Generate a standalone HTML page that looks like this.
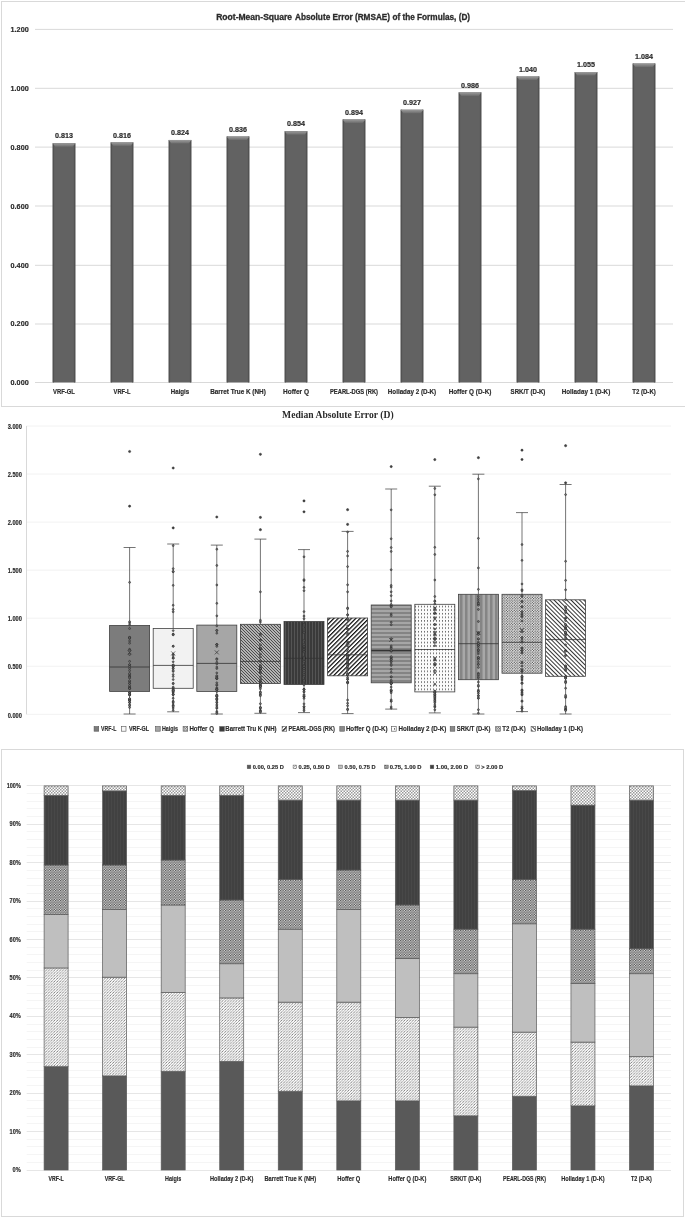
<!DOCTYPE html>
<html><head><meta charset="utf-8"><title>Formula error charts</title>
<style>
html,body{margin:0;padding:0;background:#ffffff;}
body{width:685px;height:1218px;overflow:hidden;}
svg{display:block;}
</style></head>
<body>
<svg width="685" height="1218" viewBox="0 0 685 1218">

<defs>
 <linearGradient id="bevTop" x1="0" y1="0" x2="0" y2="1">
  <stop offset="0" stop-color="#9c9c9c"/><stop offset="1" stop-color="#6c6c6c"/>
 </linearGradient>
 <linearGradient id="barBody" x1="0" y1="0" x2="1" y2="0">
  <stop offset="0" stop-color="#505050"/><stop offset="0.08" stop-color="#5e5e5e"/>
  <stop offset="0.92" stop-color="#5e5e5e"/><stop offset="1" stop-color="#505050"/>
 </linearGradient>
 <pattern id="pHofferQ" width="3" height="3" patternUnits="userSpaceOnUse">
  <rect width="3" height="3" fill="#b4b4b4"/>
  <path d="M-1,-1 L4,4 M-1,2 L1,4 M2,-1 L4,1" stroke="#484848" stroke-width="0.95"/>
 </pattern>
 <pattern id="pBarrett" width="3" height="3" patternUnits="userSpaceOnUse">
  <rect width="3" height="3" fill="#3a3a3a"/>
  <rect x="0" width="1" height="3" fill="#555"/>
 </pattern>
 <pattern id="pPearl" width="3.1" height="3.1" patternUnits="userSpaceOnUse" patternTransform="rotate(45)">
  <rect width="3.1" height="3.1" fill="#ffffff"/>
  <rect x="0" width="1.25" height="3.1" fill="#111"/>
 </pattern>
 <pattern id="pHofferQDK" width="4" height="4" patternUnits="userSpaceOnUse">
  <rect width="4" height="4" fill="#a6a6a6"/>
  <rect y="0" width="4" height="2" fill="#848484"/>
 </pattern>
 <pattern id="pHol2" width="3" height="3.6" patternUnits="userSpaceOnUse">
  <rect width="3" height="3.6" fill="#fbfbfb"/>
  <rect x="1" y="1" width="0.9" height="1.4" fill="#444"/>
 </pattern>
 <pattern id="pSRKT" width="5" height="5" patternUnits="userSpaceOnUse">
  <rect width="5" height="5" fill="#a8a8a8"/>
  <rect x="0" width="2.5" height="5" fill="#858585"/>
 </pattern>
 <pattern id="pT2" width="2.6" height="2.6" patternUnits="userSpaceOnUse">
  <rect width="2.6" height="2.6" fill="#f0f0f0"/>
  <circle cx="0.65" cy="0.65" r="0.58" fill="#222"/>
  <circle cx="1.95" cy="1.95" r="0.58" fill="#222"/>
 </pattern>
 <pattern id="pHol1" width="3" height="3" patternUnits="userSpaceOnUse" patternTransform="rotate(-45)">
  <rect width="3" height="3" fill="#ffffff"/>
  <rect x="0" width="1.0" height="3" fill="#333"/>
 </pattern>
 <pattern id="sZig" width="2.8" height="2.8" patternUnits="userSpaceOnUse">
  <rect width="2.8" height="2.8" fill="#ffffff"/>
  <path d="M0.2,2.5 L2.3,0.4" stroke="#4a4a4a" stroke-width="0.85"/>
 </pattern>
 <pattern id="sCheckD" width="2.5" height="2.5" patternUnits="userSpaceOnUse">
  <rect width="2.5" height="2.5" fill="#dcdcdc"/>
  <circle cx="0.62" cy="0.62" r="0.72" fill="#4a4a4a"/>
  <circle cx="1.87" cy="1.87" r="0.72" fill="#4a4a4a"/>
 </pattern>
 <pattern id="sDark" width="3" height="3" patternUnits="userSpaceOnUse">
  <rect width="3" height="3" fill="#414141"/>
  <rect x="0" width="1" height="3" fill="#484848"/>
 </pattern>
 <pattern id="sCheckL" width="3" height="3" patternUnits="userSpaceOnUse">
  <rect width="3" height="3" fill="#ffffff"/>
  <rect width="1.5" height="1.5" fill="#9a9a9a"/>
  <rect x="1.5" y="1.5" width="1.5" height="1.5" fill="#9a9a9a"/>
 </pattern>
</defs>

<rect width="685" height="1218" fill="#ffffff"/>
<rect x="1.5" y="1.5" width="684" height="405" fill="none" stroke="#d9d9d9" stroke-width="1"/>
<text x="216.20" y="20.20" font-family="'Liberation Sans', Arial, sans-serif" font-size="8.8" font-weight="bold" fill="#2b2b2b" text-anchor="start" textLength="75.9" lengthAdjust="spacingAndGlyphs" stroke="#2b2b2b" stroke-width="0.3">Root-Mean-Square</text>
<text x="295.00" y="20.20" font-family="'Liberation Sans', Arial, sans-serif" font-size="8.8" font-weight="bold" fill="#2b2b2b" text-anchor="start" textLength="175.1" lengthAdjust="spacingAndGlyphs" stroke="#2b2b2b" stroke-width="0.3">Absolute Error (RMSAE) of the Formulas, (D)</text>
<line x1="35" y1="382.50" x2="673" y2="382.50" stroke="#d9d9d9" stroke-width="1"/>
<text x="28.70" y="385.20" font-family="'Liberation Sans', Arial, sans-serif" font-size="7.1" font-weight="bold" fill="#2b2b2b" text-anchor="end" textLength="18.1" lengthAdjust="spacingAndGlyphs" stroke="#2b2b2b" stroke-width="0.18">0.000</text>
<line x1="35" y1="324.00" x2="673" y2="324.00" stroke="#d9d9d9" stroke-width="1"/>
<text x="28.70" y="326.36" font-family="'Liberation Sans', Arial, sans-serif" font-size="7.1" font-weight="bold" fill="#2b2b2b" text-anchor="end" textLength="18.1" lengthAdjust="spacingAndGlyphs" stroke="#2b2b2b" stroke-width="0.18">0.200</text>
<line x1="35" y1="265.30" x2="673" y2="265.30" stroke="#d9d9d9" stroke-width="1"/>
<text x="28.70" y="267.52" font-family="'Liberation Sans', Arial, sans-serif" font-size="7.1" font-weight="bold" fill="#2b2b2b" text-anchor="end" textLength="18.1" lengthAdjust="spacingAndGlyphs" stroke="#2b2b2b" stroke-width="0.18">0.400</text>
<line x1="35" y1="206.00" x2="673" y2="206.00" stroke="#d9d9d9" stroke-width="1"/>
<text x="28.70" y="208.67" font-family="'Liberation Sans', Arial, sans-serif" font-size="7.1" font-weight="bold" fill="#2b2b2b" text-anchor="end" textLength="18.1" lengthAdjust="spacingAndGlyphs" stroke="#2b2b2b" stroke-width="0.18">0.600</text>
<line x1="35" y1="147.10" x2="673" y2="147.10" stroke="#d9d9d9" stroke-width="1"/>
<text x="28.70" y="149.83" font-family="'Liberation Sans', Arial, sans-serif" font-size="7.1" font-weight="bold" fill="#2b2b2b" text-anchor="end" textLength="18.1" lengthAdjust="spacingAndGlyphs" stroke="#2b2b2b" stroke-width="0.18">0.800</text>
<line x1="35" y1="88.30" x2="673" y2="88.30" stroke="#d9d9d9" stroke-width="1"/>
<text x="28.70" y="90.99" font-family="'Liberation Sans', Arial, sans-serif" font-size="7.1" font-weight="bold" fill="#2b2b2b" text-anchor="end" textLength="18.1" lengthAdjust="spacingAndGlyphs" stroke="#2b2b2b" stroke-width="0.18">1.000</text>
<line x1="35" y1="29.40" x2="673" y2="29.40" stroke="#d9d9d9" stroke-width="1"/>
<text x="28.70" y="32.15" font-family="'Liberation Sans', Arial, sans-serif" font-size="7.1" font-weight="bold" fill="#2b2b2b" text-anchor="end" textLength="18.1" lengthAdjust="spacingAndGlyphs" stroke="#2b2b2b" stroke-width="0.18">1.200</text>
<rect x="52.70" y="143.21" width="22.6" height="239.19" fill="#626262"/>
<rect x="52.70" y="143.21" width="1.4" height="239.19" fill="#525252"/>
<rect x="73.90" y="143.21" width="1.4" height="239.19" fill="#525252"/>
<polygon points="52.70,143.21 75.30,143.21 72.70,146.81 55.30,146.81" fill="url(#bevTop)"/>
<text x="64.00" y="138.41" font-family="'Liberation Sans', Arial, sans-serif" font-size="7.1" font-weight="bold" fill="#2b2b2b" text-anchor="middle" textLength="18.0" lengthAdjust="spacingAndGlyphs" stroke="#2b2b2b" stroke-width="0.18">0.813</text>
<text x="64.00" y="394.00" font-family="'Liberation Sans', Arial, sans-serif" font-size="7.1" font-weight="bold" fill="#2b2b2b" text-anchor="middle" textLength="21.8" lengthAdjust="spacingAndGlyphs" stroke="#2b2b2b" stroke-width="0.18">VRF-GL</text>
<rect x="110.70" y="142.33" width="22.6" height="240.07" fill="#626262"/>
<rect x="110.70" y="142.33" width="1.4" height="240.07" fill="#525252"/>
<rect x="131.90" y="142.33" width="1.4" height="240.07" fill="#525252"/>
<polygon points="110.70,142.33 133.30,142.33 130.70,145.93 113.30,145.93" fill="url(#bevTop)"/>
<text x="122.00" y="137.53" font-family="'Liberation Sans', Arial, sans-serif" font-size="7.1" font-weight="bold" fill="#2b2b2b" text-anchor="middle" textLength="18.0" lengthAdjust="spacingAndGlyphs" stroke="#2b2b2b" stroke-width="0.18">0.816</text>
<text x="122.00" y="394.00" font-family="'Liberation Sans', Arial, sans-serif" font-size="7.1" font-weight="bold" fill="#2b2b2b" text-anchor="middle" textLength="16.8" lengthAdjust="spacingAndGlyphs" stroke="#2b2b2b" stroke-width="0.18">VRF-L</text>
<rect x="168.70" y="139.97" width="22.6" height="242.43" fill="#626262"/>
<rect x="168.70" y="139.97" width="1.4" height="242.43" fill="#525252"/>
<rect x="189.90" y="139.97" width="1.4" height="242.43" fill="#525252"/>
<polygon points="168.70,139.97 191.30,139.97 188.70,143.57 171.30,143.57" fill="url(#bevTop)"/>
<text x="180.00" y="135.17" font-family="'Liberation Sans', Arial, sans-serif" font-size="7.1" font-weight="bold" fill="#2b2b2b" text-anchor="middle" textLength="18.0" lengthAdjust="spacingAndGlyphs" stroke="#2b2b2b" stroke-width="0.18">0.824</text>
<text x="180.00" y="394.00" font-family="'Liberation Sans', Arial, sans-serif" font-size="7.1" font-weight="bold" fill="#2b2b2b" text-anchor="middle" textLength="18.4" lengthAdjust="spacingAndGlyphs" stroke="#2b2b2b" stroke-width="0.18">Haigis</text>
<rect x="226.70" y="136.44" width="22.6" height="245.96" fill="#626262"/>
<rect x="226.70" y="136.44" width="1.4" height="245.96" fill="#525252"/>
<rect x="247.90" y="136.44" width="1.4" height="245.96" fill="#525252"/>
<polygon points="226.70,136.44 249.30,136.44 246.70,140.04 229.30,140.04" fill="url(#bevTop)"/>
<text x="238.00" y="131.64" font-family="'Liberation Sans', Arial, sans-serif" font-size="7.1" font-weight="bold" fill="#2b2b2b" text-anchor="middle" textLength="18.0" lengthAdjust="spacingAndGlyphs" stroke="#2b2b2b" stroke-width="0.18">0.836</text>
<text x="238.00" y="394.00" font-family="'Liberation Sans', Arial, sans-serif" font-size="7.1" font-weight="bold" fill="#2b2b2b" text-anchor="middle" textLength="55.6" lengthAdjust="spacingAndGlyphs" stroke="#2b2b2b" stroke-width="0.18">Barret True K (NH)</text>
<rect x="284.70" y="131.15" width="22.6" height="251.25" fill="#626262"/>
<rect x="284.70" y="131.15" width="1.4" height="251.25" fill="#525252"/>
<rect x="305.90" y="131.15" width="1.4" height="251.25" fill="#525252"/>
<polygon points="284.70,131.15 307.30,131.15 304.70,134.75 287.30,134.75" fill="url(#bevTop)"/>
<text x="296.00" y="126.35" font-family="'Liberation Sans', Arial, sans-serif" font-size="7.1" font-weight="bold" fill="#2b2b2b" text-anchor="middle" textLength="18.0" lengthAdjust="spacingAndGlyphs" stroke="#2b2b2b" stroke-width="0.18">0.854</text>
<text x="296.00" y="394.00" font-family="'Liberation Sans', Arial, sans-serif" font-size="7.1" font-weight="bold" fill="#2b2b2b" text-anchor="middle" textLength="26.1" lengthAdjust="spacingAndGlyphs" stroke="#2b2b2b" stroke-width="0.18">Hoffer Q</text>
<rect x="342.70" y="119.38" width="22.6" height="263.02" fill="#626262"/>
<rect x="342.70" y="119.38" width="1.4" height="263.02" fill="#525252"/>
<rect x="363.90" y="119.38" width="1.4" height="263.02" fill="#525252"/>
<polygon points="342.70,119.38 365.30,119.38 362.70,122.98 345.30,122.98" fill="url(#bevTop)"/>
<text x="354.00" y="114.58" font-family="'Liberation Sans', Arial, sans-serif" font-size="7.1" font-weight="bold" fill="#2b2b2b" text-anchor="middle" textLength="18.0" lengthAdjust="spacingAndGlyphs" stroke="#2b2b2b" stroke-width="0.18">0.894</text>
<text x="354.00" y="394.00" font-family="'Liberation Sans', Arial, sans-serif" font-size="7.1" font-weight="bold" fill="#2b2b2b" text-anchor="middle" textLength="48.1" lengthAdjust="spacingAndGlyphs" stroke="#2b2b2b" stroke-width="0.18">PEARL-DGS (RK)</text>
<rect x="400.70" y="109.67" width="22.6" height="272.73" fill="#626262"/>
<rect x="400.70" y="109.67" width="1.4" height="272.73" fill="#525252"/>
<rect x="421.90" y="109.67" width="1.4" height="272.73" fill="#525252"/>
<polygon points="400.70,109.67 423.30,109.67 420.70,113.27 403.30,113.27" fill="url(#bevTop)"/>
<text x="412.00" y="104.87" font-family="'Liberation Sans', Arial, sans-serif" font-size="7.1" font-weight="bold" fill="#2b2b2b" text-anchor="middle" textLength="18.0" lengthAdjust="spacingAndGlyphs" stroke="#2b2b2b" stroke-width="0.18">0.927</text>
<text x="412.00" y="394.00" font-family="'Liberation Sans', Arial, sans-serif" font-size="7.1" font-weight="bold" fill="#2b2b2b" text-anchor="middle" textLength="48.4" lengthAdjust="spacingAndGlyphs" stroke="#2b2b2b" stroke-width="0.18">Holladay 2 (D-K)</text>
<rect x="458.70" y="92.31" width="22.6" height="290.09" fill="#626262"/>
<rect x="458.70" y="92.31" width="1.4" height="290.09" fill="#525252"/>
<rect x="479.90" y="92.31" width="1.4" height="290.09" fill="#525252"/>
<polygon points="458.70,92.31 481.30,92.31 478.70,95.91 461.30,95.91" fill="url(#bevTop)"/>
<text x="470.00" y="87.51" font-family="'Liberation Sans', Arial, sans-serif" font-size="7.1" font-weight="bold" fill="#2b2b2b" text-anchor="middle" textLength="18.0" lengthAdjust="spacingAndGlyphs" stroke="#2b2b2b" stroke-width="0.18">0.986</text>
<text x="470.00" y="394.00" font-family="'Liberation Sans', Arial, sans-serif" font-size="7.1" font-weight="bold" fill="#2b2b2b" text-anchor="middle" textLength="42.7" lengthAdjust="spacingAndGlyphs" stroke="#2b2b2b" stroke-width="0.18">Hoffer Q (D-K)</text>
<rect x="516.70" y="76.42" width="22.6" height="305.98" fill="#626262"/>
<rect x="516.70" y="76.42" width="1.4" height="305.98" fill="#525252"/>
<rect x="537.90" y="76.42" width="1.4" height="305.98" fill="#525252"/>
<polygon points="516.70,76.42 539.30,76.42 536.70,80.02 519.30,80.02" fill="url(#bevTop)"/>
<text x="528.00" y="71.62" font-family="'Liberation Sans', Arial, sans-serif" font-size="7.1" font-weight="bold" fill="#2b2b2b" text-anchor="middle" textLength="18.0" lengthAdjust="spacingAndGlyphs" stroke="#2b2b2b" stroke-width="0.18">1.040</text>
<text x="528.00" y="394.00" font-family="'Liberation Sans', Arial, sans-serif" font-size="7.1" font-weight="bold" fill="#2b2b2b" text-anchor="middle" textLength="34.8" lengthAdjust="spacingAndGlyphs" stroke="#2b2b2b" stroke-width="0.18">SRK/T (D-K)</text>
<rect x="574.70" y="72.01" width="22.6" height="310.39" fill="#626262"/>
<rect x="574.70" y="72.01" width="1.4" height="310.39" fill="#525252"/>
<rect x="595.90" y="72.01" width="1.4" height="310.39" fill="#525252"/>
<polygon points="574.70,72.01 597.30,72.01 594.70,75.61 577.30,75.61" fill="url(#bevTop)"/>
<text x="586.00" y="67.21" font-family="'Liberation Sans', Arial, sans-serif" font-size="7.1" font-weight="bold" fill="#2b2b2b" text-anchor="middle" textLength="18.0" lengthAdjust="spacingAndGlyphs" stroke="#2b2b2b" stroke-width="0.18">1.055</text>
<text x="586.00" y="394.00" font-family="'Liberation Sans', Arial, sans-serif" font-size="7.1" font-weight="bold" fill="#2b2b2b" text-anchor="middle" textLength="48.5" lengthAdjust="spacingAndGlyphs" stroke="#2b2b2b" stroke-width="0.18">Holladay 1 (D-K)</text>
<rect x="632.70" y="63.48" width="22.6" height="318.92" fill="#626262"/>
<rect x="632.70" y="63.48" width="1.4" height="318.92" fill="#525252"/>
<rect x="653.90" y="63.48" width="1.4" height="318.92" fill="#525252"/>
<polygon points="632.70,63.48 655.30,63.48 652.70,67.08 635.30,67.08" fill="url(#bevTop)"/>
<text x="644.00" y="58.68" font-family="'Liberation Sans', Arial, sans-serif" font-size="7.1" font-weight="bold" fill="#2b2b2b" text-anchor="middle" textLength="18.0" lengthAdjust="spacingAndGlyphs" stroke="#2b2b2b" stroke-width="0.18">1.084</text>
<text x="644.00" y="394.00" font-family="'Liberation Sans', Arial, sans-serif" font-size="7.1" font-weight="bold" fill="#2b2b2b" text-anchor="middle" textLength="23.6" lengthAdjust="spacingAndGlyphs" stroke="#2b2b2b" stroke-width="0.18">T2 (D-K)</text>
<text x="282.10" y="418.10" font-family="'Liberation Serif', 'Times New Roman', serif" font-size="10" font-weight="bold" fill="#2b2b2b" text-anchor="start" textLength="111.5" lengthAdjust="spacingAndGlyphs">Median Absolute Error (D)</text>
<line x1="26.3" y1="714.30" x2="671" y2="714.30" stroke="#f2f2f2" stroke-width="1"/>
<text x="21.90" y="717.50" font-family="'Liberation Sans', Arial, sans-serif" font-size="6.4" font-weight="bold" fill="#2b2b2b" text-anchor="end" textLength="14.2" lengthAdjust="spacingAndGlyphs" stroke="#2b2b2b" stroke-width="0.15">0.000</text>
<line x1="26.3" y1="666.25" x2="671" y2="666.25" stroke="#f2f2f2" stroke-width="1"/>
<text x="21.90" y="669.45" font-family="'Liberation Sans', Arial, sans-serif" font-size="6.4" font-weight="bold" fill="#2b2b2b" text-anchor="end" textLength="14.2" lengthAdjust="spacingAndGlyphs" stroke="#2b2b2b" stroke-width="0.15">0.500</text>
<line x1="26.3" y1="618.20" x2="671" y2="618.20" stroke="#f2f2f2" stroke-width="1"/>
<text x="21.90" y="621.40" font-family="'Liberation Sans', Arial, sans-serif" font-size="6.4" font-weight="bold" fill="#2b2b2b" text-anchor="end" textLength="14.2" lengthAdjust="spacingAndGlyphs" stroke="#2b2b2b" stroke-width="0.15">1.000</text>
<line x1="26.3" y1="570.15" x2="671" y2="570.15" stroke="#f2f2f2" stroke-width="1"/>
<text x="21.90" y="573.35" font-family="'Liberation Sans', Arial, sans-serif" font-size="6.4" font-weight="bold" fill="#2b2b2b" text-anchor="end" textLength="14.2" lengthAdjust="spacingAndGlyphs" stroke="#2b2b2b" stroke-width="0.15">1.500</text>
<line x1="26.3" y1="522.10" x2="671" y2="522.10" stroke="#f2f2f2" stroke-width="1"/>
<text x="21.90" y="525.30" font-family="'Liberation Sans', Arial, sans-serif" font-size="6.4" font-weight="bold" fill="#2b2b2b" text-anchor="end" textLength="14.2" lengthAdjust="spacingAndGlyphs" stroke="#2b2b2b" stroke-width="0.15">2.000</text>
<line x1="26.3" y1="474.05" x2="671" y2="474.05" stroke="#f2f2f2" stroke-width="1"/>
<text x="21.90" y="477.25" font-family="'Liberation Sans', Arial, sans-serif" font-size="6.4" font-weight="bold" fill="#2b2b2b" text-anchor="end" textLength="14.2" lengthAdjust="spacingAndGlyphs" stroke="#2b2b2b" stroke-width="0.15">2.500</text>
<line x1="26.3" y1="426.00" x2="671" y2="426.00" stroke="#f2f2f2" stroke-width="1"/>
<text x="21.90" y="429.20" font-family="'Liberation Sans', Arial, sans-serif" font-size="6.4" font-weight="bold" fill="#2b2b2b" text-anchor="end" textLength="14.2" lengthAdjust="spacingAndGlyphs" stroke="#2b2b2b" stroke-width="0.15">3.000</text>
<line x1="26.5" y1="426.00" x2="26.5" y2="714.30" stroke="#d9d9d9" stroke-width="1"/>
<rect x="109.60" y="625.50" width="40" height="65.90" fill="#7c7c7c" stroke="#3f3f3f" stroke-width="0.8"/>
<line x1="109.60" y1="667.00" x2="149.60" y2="667.00" stroke="#333" stroke-width="0.8"/>
<line x1="129.60" y1="547.50" x2="129.60" y2="625.50" stroke="#3a3a3a" stroke-width="0.7"/>
<line x1="129.60" y1="691.40" x2="129.60" y2="714.00" stroke="#3a3a3a" stroke-width="0.7"/>
<line x1="123.60" y1="547.50" x2="135.60" y2="547.50" stroke="#3a3a3a" stroke-width="0.7"/>
<line x1="123.60" y1="714.00" x2="135.60" y2="714.00" stroke="#3a3a3a" stroke-width="0.7"/>
<circle cx="129.60" cy="670.68" r="0.95" fill="#777" stroke="#222" stroke-width="0.55"/>
<circle cx="129.60" cy="628.51" r="0.95" fill="#777" stroke="#222" stroke-width="0.55"/>
<circle cx="129.60" cy="675.92" r="0.95" fill="#777" stroke="#222" stroke-width="0.55"/>
<circle cx="129.60" cy="700.76" r="0.95" fill="#777" stroke="#222" stroke-width="0.55"/>
<circle cx="129.60" cy="699.03" r="0.95" fill="#777" stroke="#222" stroke-width="0.55"/>
<circle cx="129.60" cy="692.40" r="0.95" fill="#777" stroke="#222" stroke-width="0.55"/>
<circle cx="129.60" cy="687.18" r="0.95" fill="#777" stroke="#222" stroke-width="0.55"/>
<circle cx="129.60" cy="694.62" r="0.95" fill="#777" stroke="#222" stroke-width="0.55"/>
<circle cx="129.60" cy="664.83" r="0.95" fill="#777" stroke="#222" stroke-width="0.55"/>
<circle cx="129.60" cy="676.68" r="0.95" fill="#777" stroke="#222" stroke-width="0.55"/>
<circle cx="129.60" cy="624.92" r="0.95" fill="#777" stroke="#222" stroke-width="0.55"/>
<circle cx="129.60" cy="637.52" r="0.95" fill="#777" stroke="#222" stroke-width="0.55"/>
<circle cx="129.60" cy="692.80" r="0.95" fill="#777" stroke="#222" stroke-width="0.55"/>
<circle cx="129.60" cy="686.91" r="0.95" fill="#777" stroke="#222" stroke-width="0.55"/>
<circle cx="129.60" cy="702.57" r="0.95" fill="#777" stroke="#222" stroke-width="0.55"/>
<circle cx="129.60" cy="640.95" r="0.95" fill="#777" stroke="#222" stroke-width="0.55"/>
<circle cx="129.60" cy="668.53" r="0.95" fill="#777" stroke="#222" stroke-width="0.55"/>
<circle cx="129.60" cy="694.30" r="0.95" fill="#777" stroke="#222" stroke-width="0.55"/>
<circle cx="129.60" cy="643.25" r="0.95" fill="#777" stroke="#222" stroke-width="0.55"/>
<circle cx="129.60" cy="681.29" r="0.95" fill="#777" stroke="#222" stroke-width="0.55"/>
<circle cx="129.60" cy="674.31" r="0.95" fill="#777" stroke="#222" stroke-width="0.55"/>
<circle cx="129.60" cy="654.51" r="0.95" fill="#777" stroke="#222" stroke-width="0.55"/>
<circle cx="129.60" cy="702.39" r="0.95" fill="#777" stroke="#222" stroke-width="0.55"/>
<circle cx="129.60" cy="688.35" r="0.95" fill="#777" stroke="#222" stroke-width="0.55"/>
<circle cx="129.60" cy="637.45" r="0.95" fill="#777" stroke="#222" stroke-width="0.55"/>
<circle cx="129.60" cy="622.94" r="0.95" fill="#777" stroke="#222" stroke-width="0.55"/>
<circle cx="129.60" cy="685.47" r="0.95" fill="#777" stroke="#222" stroke-width="0.55"/>
<circle cx="129.60" cy="700.32" r="0.95" fill="#777" stroke="#222" stroke-width="0.55"/>
<circle cx="129.60" cy="704.78" r="0.95" fill="#777" stroke="#222" stroke-width="0.55"/>
<circle cx="129.60" cy="649.28" r="0.95" fill="#777" stroke="#222" stroke-width="0.55"/>
<circle cx="129.60" cy="638.52" r="0.95" fill="#777" stroke="#222" stroke-width="0.55"/>
<circle cx="129.60" cy="650.17" r="0.95" fill="#777" stroke="#222" stroke-width="0.55"/>
<circle cx="129.60" cy="678.13" r="0.95" fill="#777" stroke="#222" stroke-width="0.55"/>
<circle cx="129.60" cy="664.70" r="0.95" fill="#777" stroke="#222" stroke-width="0.55"/>
<circle cx="129.60" cy="683.21" r="0.95" fill="#777" stroke="#222" stroke-width="0.55"/>
<circle cx="129.60" cy="705.65" r="0.95" fill="#777" stroke="#222" stroke-width="0.55"/>
<circle cx="129.60" cy="666.71" r="0.95" fill="#777" stroke="#222" stroke-width="0.55"/>
<circle cx="129.60" cy="637.31" r="0.95" fill="#777" stroke="#222" stroke-width="0.55"/>
<circle cx="129.60" cy="683.32" r="0.95" fill="#777" stroke="#222" stroke-width="0.55"/>
<circle cx="129.60" cy="699.68" r="0.95" fill="#777" stroke="#222" stroke-width="0.55"/>
<circle cx="129.60" cy="692.79" r="0.95" fill="#777" stroke="#222" stroke-width="0.55"/>
<circle cx="129.60" cy="707.44" r="0.95" fill="#777" stroke="#222" stroke-width="0.55"/>
<circle cx="129.60" cy="695.08" r="0.95" fill="#777" stroke="#222" stroke-width="0.55"/>
<circle cx="129.60" cy="688.26" r="0.95" fill="#777" stroke="#222" stroke-width="0.55"/>
<circle cx="129.60" cy="699.38" r="0.95" fill="#777" stroke="#222" stroke-width="0.55"/>
<circle cx="129.60" cy="688.55" r="0.95" fill="#777" stroke="#222" stroke-width="0.55"/>
<circle cx="129.60" cy="661.36" r="0.95" fill="#777" stroke="#222" stroke-width="0.55"/>
<circle cx="129.60" cy="677.13" r="0.95" fill="#777" stroke="#222" stroke-width="0.55"/>
<circle cx="129.60" cy="688.57" r="0.95" fill="#777" stroke="#222" stroke-width="0.55"/>
<circle cx="129.60" cy="621.71" r="0.95" fill="#777" stroke="#222" stroke-width="0.55"/>
<circle cx="129.60" cy="694.78" r="0.95" fill="#777" stroke="#222" stroke-width="0.55"/>
<circle cx="129.60" cy="700.22" r="0.95" fill="#777" stroke="#222" stroke-width="0.55"/>
<circle cx="129.60" cy="673.41" r="0.95" fill="#777" stroke="#222" stroke-width="0.55"/>
<circle cx="129.60" cy="698.69" r="0.95" fill="#777" stroke="#222" stroke-width="0.55"/>
<circle cx="129.60" cy="680.82" r="0.95" fill="#777" stroke="#222" stroke-width="0.55"/>
<circle cx="129.60" cy="582.37" r="0.95" fill="#777" stroke="#222" stroke-width="0.55"/>
<circle cx="129.60" cy="451.50" r="1.1" fill="#444" stroke="#222" stroke-width="0.5"/>
<circle cx="129.60" cy="506.20" r="1.1" fill="#444" stroke="#222" stroke-width="0.5"/>
<path d="M127.60,650.40 L131.60,654.40 M127.60,654.40 L131.60,650.40" stroke="#333" stroke-width="0.7"/>
<rect x="153.20" y="628.60" width="40" height="59.70" fill="#f2f2f2" stroke="#3f3f3f" stroke-width="0.8"/>
<line x1="153.20" y1="665.40" x2="193.20" y2="665.40" stroke="#333" stroke-width="0.8"/>
<line x1="173.20" y1="544.00" x2="173.20" y2="628.60" stroke="#3a3a3a" stroke-width="0.7"/>
<line x1="173.20" y1="688.30" x2="173.20" y2="711.80" stroke="#3a3a3a" stroke-width="0.7"/>
<line x1="167.20" y1="544.00" x2="179.20" y2="544.00" stroke="#3a3a3a" stroke-width="0.7"/>
<line x1="167.20" y1="711.80" x2="179.20" y2="711.80" stroke="#3a3a3a" stroke-width="0.7"/>
<circle cx="173.20" cy="679.54" r="0.95" fill="#777" stroke="#222" stroke-width="0.55"/>
<circle cx="173.20" cy="630.59" r="0.95" fill="#777" stroke="#222" stroke-width="0.55"/>
<circle cx="173.20" cy="571.75" r="0.95" fill="#777" stroke="#222" stroke-width="0.55"/>
<circle cx="173.20" cy="657.96" r="0.95" fill="#777" stroke="#222" stroke-width="0.55"/>
<circle cx="173.20" cy="674.54" r="0.95" fill="#777" stroke="#222" stroke-width="0.55"/>
<circle cx="173.20" cy="701.30" r="0.95" fill="#777" stroke="#222" stroke-width="0.55"/>
<circle cx="173.20" cy="689.00" r="0.95" fill="#777" stroke="#222" stroke-width="0.55"/>
<circle cx="173.20" cy="690.51" r="0.95" fill="#777" stroke="#222" stroke-width="0.55"/>
<circle cx="173.20" cy="666.60" r="0.95" fill="#777" stroke="#222" stroke-width="0.55"/>
<circle cx="173.20" cy="690.32" r="0.95" fill="#777" stroke="#222" stroke-width="0.55"/>
<circle cx="173.20" cy="694.61" r="0.95" fill="#777" stroke="#222" stroke-width="0.55"/>
<circle cx="173.20" cy="708.04" r="0.95" fill="#777" stroke="#222" stroke-width="0.55"/>
<circle cx="173.20" cy="634.07" r="0.95" fill="#777" stroke="#222" stroke-width="0.55"/>
<circle cx="173.20" cy="694.24" r="0.95" fill="#777" stroke="#222" stroke-width="0.55"/>
<circle cx="173.20" cy="668.21" r="0.95" fill="#777" stroke="#222" stroke-width="0.55"/>
<circle cx="173.20" cy="665.15" r="0.95" fill="#777" stroke="#222" stroke-width="0.55"/>
<circle cx="173.20" cy="676.48" r="0.95" fill="#777" stroke="#222" stroke-width="0.55"/>
<circle cx="173.20" cy="689.51" r="0.95" fill="#777" stroke="#222" stroke-width="0.55"/>
<circle cx="173.20" cy="671.46" r="0.95" fill="#777" stroke="#222" stroke-width="0.55"/>
<circle cx="173.20" cy="634.54" r="0.95" fill="#777" stroke="#222" stroke-width="0.55"/>
<circle cx="173.20" cy="710.31" r="0.95" fill="#777" stroke="#222" stroke-width="0.55"/>
<circle cx="173.20" cy="668.76" r="0.95" fill="#777" stroke="#222" stroke-width="0.55"/>
<circle cx="173.20" cy="666.02" r="0.95" fill="#777" stroke="#222" stroke-width="0.55"/>
<circle cx="173.20" cy="687.81" r="0.95" fill="#777" stroke="#222" stroke-width="0.55"/>
<circle cx="173.20" cy="654.22" r="0.95" fill="#777" stroke="#222" stroke-width="0.55"/>
<circle cx="173.20" cy="694.68" r="0.95" fill="#777" stroke="#222" stroke-width="0.55"/>
<circle cx="173.20" cy="705.09" r="0.95" fill="#777" stroke="#222" stroke-width="0.55"/>
<circle cx="173.20" cy="683.24" r="0.95" fill="#777" stroke="#222" stroke-width="0.55"/>
<circle cx="173.20" cy="670.51" r="0.95" fill="#777" stroke="#222" stroke-width="0.55"/>
<circle cx="173.20" cy="664.85" r="0.95" fill="#777" stroke="#222" stroke-width="0.55"/>
<circle cx="173.20" cy="658.26" r="0.95" fill="#777" stroke="#222" stroke-width="0.55"/>
<circle cx="173.20" cy="655.83" r="0.95" fill="#777" stroke="#222" stroke-width="0.55"/>
<circle cx="173.20" cy="698.28" r="0.95" fill="#777" stroke="#222" stroke-width="0.55"/>
<circle cx="173.20" cy="666.06" r="0.95" fill="#777" stroke="#222" stroke-width="0.55"/>
<circle cx="173.20" cy="692.78" r="0.95" fill="#777" stroke="#222" stroke-width="0.55"/>
<circle cx="173.20" cy="702.88" r="0.95" fill="#777" stroke="#222" stroke-width="0.55"/>
<circle cx="173.20" cy="605.25" r="0.95" fill="#777" stroke="#222" stroke-width="0.55"/>
<circle cx="173.20" cy="545.61" r="0.95" fill="#777" stroke="#222" stroke-width="0.55"/>
<circle cx="173.20" cy="611.76" r="0.95" fill="#777" stroke="#222" stroke-width="0.55"/>
<circle cx="173.20" cy="691.72" r="0.95" fill="#777" stroke="#222" stroke-width="0.55"/>
<circle cx="173.20" cy="691.28" r="0.95" fill="#777" stroke="#222" stroke-width="0.55"/>
<circle cx="173.20" cy="661.73" r="0.95" fill="#777" stroke="#222" stroke-width="0.55"/>
<circle cx="173.20" cy="646.24" r="0.95" fill="#777" stroke="#222" stroke-width="0.55"/>
<circle cx="173.20" cy="658.03" r="0.95" fill="#777" stroke="#222" stroke-width="0.55"/>
<circle cx="173.20" cy="702.01" r="0.95" fill="#777" stroke="#222" stroke-width="0.55"/>
<circle cx="173.20" cy="571.48" r="0.95" fill="#777" stroke="#222" stroke-width="0.55"/>
<circle cx="173.20" cy="646.19" r="0.95" fill="#777" stroke="#222" stroke-width="0.55"/>
<circle cx="173.20" cy="705.57" r="0.95" fill="#777" stroke="#222" stroke-width="0.55"/>
<circle cx="173.20" cy="683.74" r="0.95" fill="#777" stroke="#222" stroke-width="0.55"/>
<circle cx="173.20" cy="609.40" r="0.95" fill="#777" stroke="#222" stroke-width="0.55"/>
<circle cx="173.20" cy="687.08" r="0.95" fill="#777" stroke="#222" stroke-width="0.55"/>
<circle cx="173.20" cy="634.86" r="0.95" fill="#777" stroke="#222" stroke-width="0.55"/>
<circle cx="173.20" cy="690.32" r="0.95" fill="#777" stroke="#222" stroke-width="0.55"/>
<circle cx="173.20" cy="568.63" r="0.95" fill="#777" stroke="#222" stroke-width="0.55"/>
<circle cx="173.20" cy="706.64" r="0.95" fill="#777" stroke="#222" stroke-width="0.55"/>
<circle cx="173.20" cy="585.37" r="0.95" fill="#777" stroke="#222" stroke-width="0.55"/>
<circle cx="173.20" cy="468.00" r="1.1" fill="#444" stroke="#222" stroke-width="0.5"/>
<circle cx="173.20" cy="527.90" r="1.1" fill="#444" stroke="#222" stroke-width="0.5"/>
<path d="M171.20,651.40 L175.20,655.40 M171.20,655.40 L175.20,651.40" stroke="#333" stroke-width="0.7"/>
<rect x="196.80" y="625.10" width="40" height="66.30" fill="#a6a6a6" stroke="#3f3f3f" stroke-width="0.8"/>
<line x1="196.80" y1="663.40" x2="236.80" y2="663.40" stroke="#333" stroke-width="0.8"/>
<line x1="216.80" y1="545.10" x2="216.80" y2="625.10" stroke="#3a3a3a" stroke-width="0.7"/>
<line x1="216.80" y1="691.40" x2="216.80" y2="714.00" stroke="#3a3a3a" stroke-width="0.7"/>
<line x1="210.80" y1="545.10" x2="222.80" y2="545.10" stroke="#3a3a3a" stroke-width="0.7"/>
<line x1="210.80" y1="714.00" x2="222.80" y2="714.00" stroke="#3a3a3a" stroke-width="0.7"/>
<circle cx="216.80" cy="678.76" r="0.95" fill="#777" stroke="#222" stroke-width="0.55"/>
<circle cx="216.80" cy="691.49" r="0.95" fill="#777" stroke="#222" stroke-width="0.55"/>
<circle cx="216.80" cy="584.98" r="0.95" fill="#777" stroke="#222" stroke-width="0.55"/>
<circle cx="216.80" cy="689.54" r="0.95" fill="#777" stroke="#222" stroke-width="0.55"/>
<circle cx="216.80" cy="687.81" r="0.95" fill="#777" stroke="#222" stroke-width="0.55"/>
<circle cx="216.80" cy="633.18" r="0.95" fill="#777" stroke="#222" stroke-width="0.55"/>
<circle cx="216.80" cy="695.98" r="0.95" fill="#777" stroke="#222" stroke-width="0.55"/>
<circle cx="216.80" cy="702.69" r="0.95" fill="#777" stroke="#222" stroke-width="0.55"/>
<circle cx="216.80" cy="698.69" r="0.95" fill="#777" stroke="#222" stroke-width="0.55"/>
<circle cx="216.80" cy="711.39" r="0.95" fill="#777" stroke="#222" stroke-width="0.55"/>
<circle cx="216.80" cy="676.23" r="0.95" fill="#777" stroke="#222" stroke-width="0.55"/>
<circle cx="216.80" cy="688.72" r="0.95" fill="#777" stroke="#222" stroke-width="0.55"/>
<circle cx="216.80" cy="689.10" r="0.95" fill="#777" stroke="#222" stroke-width="0.55"/>
<circle cx="216.80" cy="678.29" r="0.95" fill="#777" stroke="#222" stroke-width="0.55"/>
<circle cx="216.80" cy="663.92" r="0.95" fill="#777" stroke="#222" stroke-width="0.55"/>
<circle cx="216.80" cy="668.53" r="0.95" fill="#777" stroke="#222" stroke-width="0.55"/>
<circle cx="216.80" cy="708.29" r="0.95" fill="#777" stroke="#222" stroke-width="0.55"/>
<circle cx="216.80" cy="699.95" r="0.95" fill="#777" stroke="#222" stroke-width="0.55"/>
<circle cx="216.80" cy="646.41" r="0.95" fill="#777" stroke="#222" stroke-width="0.55"/>
<circle cx="216.80" cy="677.91" r="0.95" fill="#777" stroke="#222" stroke-width="0.55"/>
<circle cx="216.80" cy="685.36" r="0.95" fill="#777" stroke="#222" stroke-width="0.55"/>
<circle cx="216.80" cy="702.04" r="0.95" fill="#777" stroke="#222" stroke-width="0.55"/>
<circle cx="216.80" cy="695.66" r="0.95" fill="#777" stroke="#222" stroke-width="0.55"/>
<circle cx="216.80" cy="644.55" r="0.95" fill="#777" stroke="#222" stroke-width="0.55"/>
<circle cx="216.80" cy="684.68" r="0.95" fill="#777" stroke="#222" stroke-width="0.55"/>
<circle cx="216.80" cy="603.34" r="0.95" fill="#777" stroke="#222" stroke-width="0.55"/>
<circle cx="216.80" cy="644.46" r="0.95" fill="#777" stroke="#222" stroke-width="0.55"/>
<circle cx="216.80" cy="682.80" r="0.95" fill="#777" stroke="#222" stroke-width="0.55"/>
<circle cx="216.80" cy="678.33" r="0.95" fill="#777" stroke="#222" stroke-width="0.55"/>
<circle cx="216.80" cy="689.76" r="0.95" fill="#777" stroke="#222" stroke-width="0.55"/>
<circle cx="216.80" cy="658.67" r="0.95" fill="#777" stroke="#222" stroke-width="0.55"/>
<circle cx="216.80" cy="615.85" r="0.95" fill="#777" stroke="#222" stroke-width="0.55"/>
<circle cx="216.80" cy="689.81" r="0.95" fill="#777" stroke="#222" stroke-width="0.55"/>
<circle cx="216.80" cy="630.35" r="0.95" fill="#777" stroke="#222" stroke-width="0.55"/>
<circle cx="216.80" cy="699.22" r="0.95" fill="#777" stroke="#222" stroke-width="0.55"/>
<circle cx="216.80" cy="694.95" r="0.95" fill="#777" stroke="#222" stroke-width="0.55"/>
<circle cx="216.80" cy="704.81" r="0.95" fill="#777" stroke="#222" stroke-width="0.55"/>
<circle cx="216.80" cy="659.46" r="0.95" fill="#777" stroke="#222" stroke-width="0.55"/>
<circle cx="216.80" cy="706.04" r="0.95" fill="#777" stroke="#222" stroke-width="0.55"/>
<circle cx="216.80" cy="630.58" r="0.95" fill="#777" stroke="#222" stroke-width="0.55"/>
<circle cx="216.80" cy="549.21" r="0.95" fill="#777" stroke="#222" stroke-width="0.55"/>
<circle cx="216.80" cy="712.61" r="0.95" fill="#777" stroke="#222" stroke-width="0.55"/>
<circle cx="216.80" cy="677.04" r="0.95" fill="#777" stroke="#222" stroke-width="0.55"/>
<circle cx="216.80" cy="565.44" r="0.95" fill="#777" stroke="#222" stroke-width="0.55"/>
<circle cx="216.80" cy="698.98" r="0.95" fill="#777" stroke="#222" stroke-width="0.55"/>
<circle cx="216.80" cy="672.90" r="0.95" fill="#777" stroke="#222" stroke-width="0.55"/>
<circle cx="216.80" cy="696.51" r="0.95" fill="#777" stroke="#222" stroke-width="0.55"/>
<circle cx="216.80" cy="625.85" r="0.95" fill="#777" stroke="#222" stroke-width="0.55"/>
<circle cx="216.80" cy="675.73" r="0.95" fill="#777" stroke="#222" stroke-width="0.55"/>
<circle cx="216.80" cy="696.78" r="0.95" fill="#777" stroke="#222" stroke-width="0.55"/>
<circle cx="216.80" cy="644.72" r="0.95" fill="#777" stroke="#222" stroke-width="0.55"/>
<circle cx="216.80" cy="713.56" r="0.95" fill="#777" stroke="#222" stroke-width="0.55"/>
<circle cx="216.80" cy="662.32" r="0.95" fill="#777" stroke="#222" stroke-width="0.55"/>
<circle cx="216.80" cy="695.43" r="0.95" fill="#777" stroke="#222" stroke-width="0.55"/>
<circle cx="216.80" cy="707.73" r="0.95" fill="#777" stroke="#222" stroke-width="0.55"/>
<circle cx="216.80" cy="667.03" r="0.95" fill="#777" stroke="#222" stroke-width="0.55"/>
<circle cx="216.80" cy="517.00" r="1.1" fill="#444" stroke="#222" stroke-width="0.5"/>
<path d="M214.80,650.40 L218.80,654.40 M214.80,654.40 L218.80,650.40" stroke="#333" stroke-width="0.7"/>
<rect x="240.40" y="624.30" width="40" height="59.20" fill="url(#pHofferQ)" stroke="#3f3f3f" stroke-width="0.8"/>
<line x1="240.40" y1="661.40" x2="280.40" y2="661.40" stroke="#333" stroke-width="0.8"/>
<line x1="260.40" y1="539.10" x2="260.40" y2="624.30" stroke="#3a3a3a" stroke-width="0.7"/>
<line x1="260.40" y1="683.50" x2="260.40" y2="713.30" stroke="#3a3a3a" stroke-width="0.7"/>
<line x1="254.40" y1="539.10" x2="266.40" y2="539.10" stroke="#3a3a3a" stroke-width="0.7"/>
<line x1="254.40" y1="713.30" x2="266.40" y2="713.30" stroke="#3a3a3a" stroke-width="0.7"/>
<circle cx="260.40" cy="681.54" r="0.95" fill="#777" stroke="#222" stroke-width="0.55"/>
<circle cx="260.40" cy="633.89" r="0.95" fill="#777" stroke="#222" stroke-width="0.55"/>
<circle cx="260.40" cy="710.21" r="0.95" fill="#777" stroke="#222" stroke-width="0.55"/>
<circle cx="260.40" cy="676.88" r="0.95" fill="#777" stroke="#222" stroke-width="0.55"/>
<circle cx="260.40" cy="684.23" r="0.95" fill="#777" stroke="#222" stroke-width="0.55"/>
<circle cx="260.40" cy="640.08" r="0.95" fill="#777" stroke="#222" stroke-width="0.55"/>
<circle cx="260.40" cy="710.93" r="0.95" fill="#777" stroke="#222" stroke-width="0.55"/>
<circle cx="260.40" cy="654.04" r="0.95" fill="#777" stroke="#222" stroke-width="0.55"/>
<circle cx="260.40" cy="707.85" r="0.95" fill="#777" stroke="#222" stroke-width="0.55"/>
<circle cx="260.40" cy="708.10" r="0.95" fill="#777" stroke="#222" stroke-width="0.55"/>
<circle cx="260.40" cy="668.90" r="0.95" fill="#777" stroke="#222" stroke-width="0.55"/>
<circle cx="260.40" cy="681.88" r="0.95" fill="#777" stroke="#222" stroke-width="0.55"/>
<circle cx="260.40" cy="685.58" r="0.95" fill="#777" stroke="#222" stroke-width="0.55"/>
<circle cx="260.40" cy="666.67" r="0.95" fill="#777" stroke="#222" stroke-width="0.55"/>
<circle cx="260.40" cy="686.28" r="0.95" fill="#777" stroke="#222" stroke-width="0.55"/>
<circle cx="260.40" cy="687.22" r="0.95" fill="#777" stroke="#222" stroke-width="0.55"/>
<circle cx="260.40" cy="668.14" r="0.95" fill="#777" stroke="#222" stroke-width="0.55"/>
<circle cx="260.40" cy="635.06" r="0.95" fill="#777" stroke="#222" stroke-width="0.55"/>
<circle cx="260.40" cy="665.33" r="0.95" fill="#777" stroke="#222" stroke-width="0.55"/>
<circle cx="260.40" cy="661.80" r="0.95" fill="#777" stroke="#222" stroke-width="0.55"/>
<circle cx="260.40" cy="683.63" r="0.95" fill="#777" stroke="#222" stroke-width="0.55"/>
<circle cx="260.40" cy="644.74" r="0.95" fill="#777" stroke="#222" stroke-width="0.55"/>
<circle cx="260.40" cy="694.81" r="0.95" fill="#777" stroke="#222" stroke-width="0.55"/>
<circle cx="260.40" cy="621.94" r="0.95" fill="#777" stroke="#222" stroke-width="0.55"/>
<circle cx="260.40" cy="640.33" r="0.95" fill="#777" stroke="#222" stroke-width="0.55"/>
<circle cx="260.40" cy="679.84" r="0.95" fill="#777" stroke="#222" stroke-width="0.55"/>
<circle cx="260.40" cy="672.60" r="0.95" fill="#777" stroke="#222" stroke-width="0.55"/>
<circle cx="260.40" cy="660.75" r="0.95" fill="#777" stroke="#222" stroke-width="0.55"/>
<circle cx="260.40" cy="679.79" r="0.95" fill="#777" stroke="#222" stroke-width="0.55"/>
<circle cx="260.40" cy="647.89" r="0.95" fill="#777" stroke="#222" stroke-width="0.55"/>
<circle cx="260.40" cy="669.08" r="0.95" fill="#777" stroke="#222" stroke-width="0.55"/>
<circle cx="260.40" cy="685.60" r="0.95" fill="#777" stroke="#222" stroke-width="0.55"/>
<circle cx="260.40" cy="703.68" r="0.95" fill="#777" stroke="#222" stroke-width="0.55"/>
<circle cx="260.40" cy="686.32" r="0.95" fill="#777" stroke="#222" stroke-width="0.55"/>
<circle cx="260.40" cy="707.30" r="0.95" fill="#777" stroke="#222" stroke-width="0.55"/>
<circle cx="260.40" cy="649.18" r="0.95" fill="#777" stroke="#222" stroke-width="0.55"/>
<circle cx="260.40" cy="666.75" r="0.95" fill="#777" stroke="#222" stroke-width="0.55"/>
<circle cx="260.40" cy="671.55" r="0.95" fill="#777" stroke="#222" stroke-width="0.55"/>
<circle cx="260.40" cy="693.93" r="0.95" fill="#777" stroke="#222" stroke-width="0.55"/>
<circle cx="260.40" cy="711.83" r="0.95" fill="#777" stroke="#222" stroke-width="0.55"/>
<circle cx="260.40" cy="591.84" r="0.95" fill="#777" stroke="#222" stroke-width="0.55"/>
<circle cx="260.40" cy="711.98" r="0.95" fill="#777" stroke="#222" stroke-width="0.55"/>
<circle cx="260.40" cy="669.28" r="0.95" fill="#777" stroke="#222" stroke-width="0.55"/>
<circle cx="260.40" cy="692.02" r="0.95" fill="#777" stroke="#222" stroke-width="0.55"/>
<circle cx="260.40" cy="672.51" r="0.95" fill="#777" stroke="#222" stroke-width="0.55"/>
<circle cx="260.40" cy="695.75" r="0.95" fill="#777" stroke="#222" stroke-width="0.55"/>
<circle cx="260.40" cy="688.78" r="0.95" fill="#777" stroke="#222" stroke-width="0.55"/>
<circle cx="260.40" cy="692.54" r="0.95" fill="#777" stroke="#222" stroke-width="0.55"/>
<circle cx="260.40" cy="683.71" r="0.95" fill="#777" stroke="#222" stroke-width="0.55"/>
<circle cx="260.40" cy="666.55" r="0.95" fill="#777" stroke="#222" stroke-width="0.55"/>
<circle cx="260.40" cy="673.10" r="0.95" fill="#777" stroke="#222" stroke-width="0.55"/>
<circle cx="260.40" cy="648.69" r="0.95" fill="#777" stroke="#222" stroke-width="0.55"/>
<circle cx="260.40" cy="656.91" r="0.95" fill="#777" stroke="#222" stroke-width="0.55"/>
<circle cx="260.40" cy="668.61" r="0.95" fill="#777" stroke="#222" stroke-width="0.55"/>
<circle cx="260.40" cy="620.23" r="0.95" fill="#777" stroke="#222" stroke-width="0.55"/>
<circle cx="260.40" cy="648.16" r="0.95" fill="#777" stroke="#222" stroke-width="0.55"/>
<circle cx="260.40" cy="454.30" r="1.1" fill="#444" stroke="#222" stroke-width="0.5"/>
<circle cx="260.40" cy="517.40" r="1.1" fill="#444" stroke="#222" stroke-width="0.5"/>
<circle cx="260.40" cy="529.70" r="1.1" fill="#444" stroke="#222" stroke-width="0.5"/>
<path d="M258.40,648.00 L262.40,652.00 M258.40,652.00 L262.40,648.00" stroke="#333" stroke-width="0.7"/>
<rect x="284.00" y="621.50" width="40" height="63.00" fill="url(#pBarrett)" stroke="#3f3f3f" stroke-width="0.8"/>
<line x1="284.00" y1="658.30" x2="324.00" y2="658.30" stroke="#333" stroke-width="0.8"/>
<line x1="304.00" y1="549.60" x2="304.00" y2="621.50" stroke="#3a3a3a" stroke-width="0.7"/>
<line x1="304.00" y1="684.50" x2="304.00" y2="712.60" stroke="#3a3a3a" stroke-width="0.7"/>
<line x1="298.00" y1="549.60" x2="310.00" y2="549.60" stroke="#3a3a3a" stroke-width="0.7"/>
<line x1="298.00" y1="712.60" x2="310.00" y2="712.60" stroke="#3a3a3a" stroke-width="0.7"/>
<circle cx="304.00" cy="706.74" r="0.95" fill="#777" stroke="#222" stroke-width="0.55"/>
<circle cx="304.00" cy="587.40" r="0.95" fill="#777" stroke="#222" stroke-width="0.55"/>
<circle cx="304.00" cy="651.39" r="0.95" fill="#777" stroke="#222" stroke-width="0.55"/>
<circle cx="304.00" cy="696.62" r="0.95" fill="#777" stroke="#222" stroke-width="0.55"/>
<circle cx="304.00" cy="680.18" r="0.95" fill="#777" stroke="#222" stroke-width="0.55"/>
<circle cx="304.00" cy="651.91" r="0.95" fill="#777" stroke="#222" stroke-width="0.55"/>
<circle cx="304.00" cy="681.69" r="0.95" fill="#777" stroke="#222" stroke-width="0.55"/>
<circle cx="304.00" cy="647.01" r="0.95" fill="#777" stroke="#222" stroke-width="0.55"/>
<circle cx="304.00" cy="684.81" r="0.95" fill="#777" stroke="#222" stroke-width="0.55"/>
<circle cx="304.00" cy="691.96" r="0.95" fill="#777" stroke="#222" stroke-width="0.55"/>
<circle cx="304.00" cy="706.76" r="0.95" fill="#777" stroke="#222" stroke-width="0.55"/>
<circle cx="304.00" cy="674.75" r="0.95" fill="#777" stroke="#222" stroke-width="0.55"/>
<circle cx="304.00" cy="646.55" r="0.95" fill="#777" stroke="#222" stroke-width="0.55"/>
<circle cx="304.00" cy="658.39" r="0.95" fill="#777" stroke="#222" stroke-width="0.55"/>
<circle cx="304.00" cy="649.04" r="0.95" fill="#777" stroke="#222" stroke-width="0.55"/>
<circle cx="304.00" cy="672.32" r="0.95" fill="#777" stroke="#222" stroke-width="0.55"/>
<circle cx="304.00" cy="623.93" r="0.95" fill="#777" stroke="#222" stroke-width="0.55"/>
<circle cx="304.00" cy="630.78" r="0.95" fill="#777" stroke="#222" stroke-width="0.55"/>
<circle cx="304.00" cy="689.51" r="0.95" fill="#777" stroke="#222" stroke-width="0.55"/>
<circle cx="304.00" cy="629.05" r="0.95" fill="#777" stroke="#222" stroke-width="0.55"/>
<circle cx="304.00" cy="657.41" r="0.95" fill="#777" stroke="#222" stroke-width="0.55"/>
<circle cx="304.00" cy="668.32" r="0.95" fill="#777" stroke="#222" stroke-width="0.55"/>
<circle cx="304.00" cy="676.21" r="0.95" fill="#777" stroke="#222" stroke-width="0.55"/>
<circle cx="304.00" cy="644.20" r="0.95" fill="#777" stroke="#222" stroke-width="0.55"/>
<circle cx="304.00" cy="624.35" r="0.95" fill="#777" stroke="#222" stroke-width="0.55"/>
<circle cx="304.00" cy="689.23" r="0.95" fill="#777" stroke="#222" stroke-width="0.55"/>
<circle cx="304.00" cy="632.70" r="0.95" fill="#777" stroke="#222" stroke-width="0.55"/>
<circle cx="304.00" cy="658.63" r="0.95" fill="#777" stroke="#222" stroke-width="0.55"/>
<circle cx="304.00" cy="689.59" r="0.95" fill="#777" stroke="#222" stroke-width="0.55"/>
<circle cx="304.00" cy="646.97" r="0.95" fill="#777" stroke="#222" stroke-width="0.55"/>
<circle cx="304.00" cy="632.20" r="0.95" fill="#777" stroke="#222" stroke-width="0.55"/>
<circle cx="304.00" cy="670.47" r="0.95" fill="#777" stroke="#222" stroke-width="0.55"/>
<circle cx="304.00" cy="661.40" r="0.95" fill="#777" stroke="#222" stroke-width="0.55"/>
<circle cx="304.00" cy="616.06" r="0.95" fill="#777" stroke="#222" stroke-width="0.55"/>
<circle cx="304.00" cy="556.79" r="0.95" fill="#777" stroke="#222" stroke-width="0.55"/>
<circle cx="304.00" cy="694.71" r="0.95" fill="#777" stroke="#222" stroke-width="0.55"/>
<circle cx="304.00" cy="657.13" r="0.95" fill="#777" stroke="#222" stroke-width="0.55"/>
<circle cx="304.00" cy="665.34" r="0.95" fill="#777" stroke="#222" stroke-width="0.55"/>
<circle cx="304.00" cy="710.63" r="0.95" fill="#777" stroke="#222" stroke-width="0.55"/>
<circle cx="304.00" cy="698.39" r="0.95" fill="#777" stroke="#222" stroke-width="0.55"/>
<circle cx="304.00" cy="696.63" r="0.95" fill="#777" stroke="#222" stroke-width="0.55"/>
<circle cx="304.00" cy="618.66" r="0.95" fill="#777" stroke="#222" stroke-width="0.55"/>
<circle cx="304.00" cy="640.22" r="0.95" fill="#777" stroke="#222" stroke-width="0.55"/>
<circle cx="304.00" cy="580.56" r="0.95" fill="#777" stroke="#222" stroke-width="0.55"/>
<circle cx="304.00" cy="708.92" r="0.95" fill="#777" stroke="#222" stroke-width="0.55"/>
<circle cx="304.00" cy="658.95" r="0.95" fill="#777" stroke="#222" stroke-width="0.55"/>
<circle cx="304.00" cy="695.67" r="0.95" fill="#777" stroke="#222" stroke-width="0.55"/>
<circle cx="304.00" cy="666.21" r="0.95" fill="#777" stroke="#222" stroke-width="0.55"/>
<circle cx="304.00" cy="691.52" r="0.95" fill="#777" stroke="#222" stroke-width="0.55"/>
<circle cx="304.00" cy="680.31" r="0.95" fill="#777" stroke="#222" stroke-width="0.55"/>
<circle cx="304.00" cy="703.86" r="0.95" fill="#777" stroke="#222" stroke-width="0.55"/>
<circle cx="304.00" cy="625.92" r="0.95" fill="#777" stroke="#222" stroke-width="0.55"/>
<circle cx="304.00" cy="579.65" r="0.95" fill="#777" stroke="#222" stroke-width="0.55"/>
<circle cx="304.00" cy="611.59" r="0.95" fill="#777" stroke="#222" stroke-width="0.55"/>
<circle cx="304.00" cy="668.59" r="0.95" fill="#777" stroke="#222" stroke-width="0.55"/>
<circle cx="304.00" cy="590.66" r="0.95" fill="#777" stroke="#222" stroke-width="0.55"/>
<circle cx="304.00" cy="500.90" r="1.1" fill="#444" stroke="#222" stroke-width="0.5"/>
<circle cx="304.00" cy="511.80" r="1.1" fill="#444" stroke="#222" stroke-width="0.5"/>
<path d="M302.00,646.00 L306.00,650.00 M302.00,650.00 L306.00,646.00" stroke="#333" stroke-width="0.7"/>
<rect x="327.60" y="618.00" width="40" height="57.80" fill="url(#pPearl)" stroke="#3f3f3f" stroke-width="0.8"/>
<line x1="327.60" y1="654.80" x2="367.60" y2="654.80" stroke="#333" stroke-width="0.8"/>
<line x1="347.60" y1="531.40" x2="347.60" y2="618.00" stroke="#3a3a3a" stroke-width="0.7"/>
<line x1="347.60" y1="675.80" x2="347.60" y2="713.60" stroke="#3a3a3a" stroke-width="0.7"/>
<line x1="341.60" y1="531.40" x2="353.60" y2="531.40" stroke="#3a3a3a" stroke-width="0.7"/>
<line x1="341.60" y1="713.60" x2="353.60" y2="713.60" stroke="#3a3a3a" stroke-width="0.7"/>
<circle cx="347.60" cy="663.79" r="0.95" fill="#777" stroke="#222" stroke-width="0.55"/>
<circle cx="347.60" cy="655.81" r="0.95" fill="#777" stroke="#222" stroke-width="0.55"/>
<circle cx="347.60" cy="705.69" r="0.95" fill="#777" stroke="#222" stroke-width="0.55"/>
<circle cx="347.60" cy="674.45" r="0.95" fill="#777" stroke="#222" stroke-width="0.55"/>
<circle cx="347.60" cy="682.55" r="0.95" fill="#777" stroke="#222" stroke-width="0.55"/>
<circle cx="347.60" cy="658.79" r="0.95" fill="#777" stroke="#222" stroke-width="0.55"/>
<circle cx="347.60" cy="674.88" r="0.95" fill="#777" stroke="#222" stroke-width="0.55"/>
<circle cx="347.60" cy="555.95" r="0.95" fill="#777" stroke="#222" stroke-width="0.55"/>
<circle cx="347.60" cy="651.61" r="0.95" fill="#777" stroke="#222" stroke-width="0.55"/>
<circle cx="347.60" cy="584.80" r="0.95" fill="#777" stroke="#222" stroke-width="0.55"/>
<circle cx="347.60" cy="619.82" r="0.95" fill="#777" stroke="#222" stroke-width="0.55"/>
<circle cx="347.60" cy="634.59" r="0.95" fill="#777" stroke="#222" stroke-width="0.55"/>
<circle cx="347.60" cy="641.72" r="0.95" fill="#777" stroke="#222" stroke-width="0.55"/>
<circle cx="347.60" cy="655.83" r="0.95" fill="#777" stroke="#222" stroke-width="0.55"/>
<circle cx="347.60" cy="614.80" r="0.95" fill="#777" stroke="#222" stroke-width="0.55"/>
<circle cx="347.60" cy="662.02" r="0.95" fill="#777" stroke="#222" stroke-width="0.55"/>
<circle cx="347.60" cy="670.32" r="0.95" fill="#777" stroke="#222" stroke-width="0.55"/>
<circle cx="347.60" cy="607.96" r="0.95" fill="#777" stroke="#222" stroke-width="0.55"/>
<circle cx="347.60" cy="629.07" r="0.95" fill="#777" stroke="#222" stroke-width="0.55"/>
<circle cx="347.60" cy="663.08" r="0.95" fill="#777" stroke="#222" stroke-width="0.55"/>
<circle cx="347.60" cy="679.34" r="0.95" fill="#777" stroke="#222" stroke-width="0.55"/>
<circle cx="347.60" cy="709.05" r="0.95" fill="#777" stroke="#222" stroke-width="0.55"/>
<circle cx="347.60" cy="659.42" r="0.95" fill="#777" stroke="#222" stroke-width="0.55"/>
<circle cx="347.60" cy="531.89" r="0.95" fill="#777" stroke="#222" stroke-width="0.55"/>
<circle cx="347.60" cy="657.73" r="0.95" fill="#777" stroke="#222" stroke-width="0.55"/>
<circle cx="347.60" cy="677.47" r="0.95" fill="#777" stroke="#222" stroke-width="0.55"/>
<circle cx="347.60" cy="656.71" r="0.95" fill="#777" stroke="#222" stroke-width="0.55"/>
<circle cx="347.60" cy="682.31" r="0.95" fill="#777" stroke="#222" stroke-width="0.55"/>
<circle cx="347.60" cy="673.43" r="0.95" fill="#777" stroke="#222" stroke-width="0.55"/>
<circle cx="347.60" cy="633.19" r="0.95" fill="#777" stroke="#222" stroke-width="0.55"/>
<circle cx="347.60" cy="665.81" r="0.95" fill="#777" stroke="#222" stroke-width="0.55"/>
<circle cx="347.60" cy="661.90" r="0.95" fill="#777" stroke="#222" stroke-width="0.55"/>
<circle cx="347.60" cy="682.94" r="0.95" fill="#777" stroke="#222" stroke-width="0.55"/>
<circle cx="347.60" cy="614.86" r="0.95" fill="#777" stroke="#222" stroke-width="0.55"/>
<circle cx="347.60" cy="668.02" r="0.95" fill="#777" stroke="#222" stroke-width="0.55"/>
<circle cx="347.60" cy="625.95" r="0.95" fill="#777" stroke="#222" stroke-width="0.55"/>
<circle cx="347.60" cy="660.02" r="0.95" fill="#777" stroke="#222" stroke-width="0.55"/>
<circle cx="347.60" cy="664.16" r="0.95" fill="#777" stroke="#222" stroke-width="0.55"/>
<circle cx="347.60" cy="551.39" r="0.95" fill="#777" stroke="#222" stroke-width="0.55"/>
<circle cx="347.60" cy="618.80" r="0.95" fill="#777" stroke="#222" stroke-width="0.55"/>
<circle cx="347.60" cy="700.00" r="0.95" fill="#777" stroke="#222" stroke-width="0.55"/>
<circle cx="347.60" cy="591.84" r="0.95" fill="#777" stroke="#222" stroke-width="0.55"/>
<circle cx="347.60" cy="654.80" r="0.95" fill="#777" stroke="#222" stroke-width="0.55"/>
<circle cx="347.60" cy="674.26" r="0.95" fill="#777" stroke="#222" stroke-width="0.55"/>
<circle cx="347.60" cy="649.48" r="0.95" fill="#777" stroke="#222" stroke-width="0.55"/>
<circle cx="347.60" cy="608.67" r="0.95" fill="#777" stroke="#222" stroke-width="0.55"/>
<circle cx="347.60" cy="679.13" r="0.95" fill="#777" stroke="#222" stroke-width="0.55"/>
<circle cx="347.60" cy="669.12" r="0.95" fill="#777" stroke="#222" stroke-width="0.55"/>
<circle cx="347.60" cy="566.60" r="0.95" fill="#777" stroke="#222" stroke-width="0.55"/>
<circle cx="347.60" cy="646.14" r="0.95" fill="#777" stroke="#222" stroke-width="0.55"/>
<circle cx="347.60" cy="666.38" r="0.95" fill="#777" stroke="#222" stroke-width="0.55"/>
<circle cx="347.60" cy="703.27" r="0.95" fill="#777" stroke="#222" stroke-width="0.55"/>
<circle cx="347.60" cy="709.71" r="0.95" fill="#777" stroke="#222" stroke-width="0.55"/>
<circle cx="347.60" cy="629.18" r="0.95" fill="#777" stroke="#222" stroke-width="0.55"/>
<circle cx="347.60" cy="682.09" r="0.95" fill="#777" stroke="#222" stroke-width="0.55"/>
<circle cx="347.60" cy="643.71" r="0.95" fill="#777" stroke="#222" stroke-width="0.55"/>
<circle cx="347.60" cy="509.70" r="1.1" fill="#444" stroke="#222" stroke-width="0.5"/>
<circle cx="347.60" cy="524.40" r="1.1" fill="#444" stroke="#222" stroke-width="0.5"/>
<path d="M345.60,641.00 L349.60,645.00 M345.60,645.00 L349.60,641.00" stroke="#333" stroke-width="0.7"/>
<rect x="371.20" y="605.00" width="40" height="77.80" fill="url(#pHofferQDK)" stroke="#3f3f3f" stroke-width="0.8"/>
<line x1="371.20" y1="650.60" x2="411.20" y2="650.60" stroke="#333" stroke-width="1.6"/>
<line x1="391.20" y1="489.00" x2="391.20" y2="605.00" stroke="#3a3a3a" stroke-width="0.7"/>
<line x1="391.20" y1="682.80" x2="391.20" y2="709.10" stroke="#3a3a3a" stroke-width="0.7"/>
<line x1="385.20" y1="489.00" x2="397.20" y2="489.00" stroke="#3a3a3a" stroke-width="0.7"/>
<line x1="385.20" y1="709.10" x2="397.20" y2="709.10" stroke="#3a3a3a" stroke-width="0.7"/>
<circle cx="391.20" cy="683.63" r="0.95" fill="#777" stroke="#222" stroke-width="0.55"/>
<circle cx="391.20" cy="669.37" r="0.95" fill="#777" stroke="#222" stroke-width="0.55"/>
<circle cx="391.20" cy="657.80" r="0.95" fill="#777" stroke="#222" stroke-width="0.55"/>
<circle cx="391.20" cy="605.48" r="0.95" fill="#777" stroke="#222" stroke-width="0.55"/>
<circle cx="391.20" cy="665.43" r="0.95" fill="#777" stroke="#222" stroke-width="0.55"/>
<circle cx="391.20" cy="547.55" r="0.95" fill="#777" stroke="#222" stroke-width="0.55"/>
<circle cx="391.20" cy="569.71" r="0.95" fill="#777" stroke="#222" stroke-width="0.55"/>
<circle cx="391.20" cy="687.07" r="0.95" fill="#777" stroke="#222" stroke-width="0.55"/>
<circle cx="391.20" cy="538.74" r="0.95" fill="#777" stroke="#222" stroke-width="0.55"/>
<circle cx="391.20" cy="651.30" r="0.95" fill="#777" stroke="#222" stroke-width="0.55"/>
<circle cx="391.20" cy="672.32" r="0.95" fill="#777" stroke="#222" stroke-width="0.55"/>
<circle cx="391.20" cy="658.88" r="0.95" fill="#777" stroke="#222" stroke-width="0.55"/>
<circle cx="391.20" cy="647.19" r="0.95" fill="#777" stroke="#222" stroke-width="0.55"/>
<circle cx="391.20" cy="683.13" r="0.95" fill="#777" stroke="#222" stroke-width="0.55"/>
<circle cx="391.20" cy="664.14" r="0.95" fill="#777" stroke="#222" stroke-width="0.55"/>
<circle cx="391.20" cy="614.03" r="0.95" fill="#777" stroke="#222" stroke-width="0.55"/>
<circle cx="391.20" cy="638.70" r="0.95" fill="#777" stroke="#222" stroke-width="0.55"/>
<circle cx="391.20" cy="657.21" r="0.95" fill="#777" stroke="#222" stroke-width="0.55"/>
<circle cx="391.20" cy="587.03" r="0.95" fill="#777" stroke="#222" stroke-width="0.55"/>
<circle cx="391.20" cy="615.52" r="0.95" fill="#777" stroke="#222" stroke-width="0.55"/>
<circle cx="391.20" cy="701.22" r="0.95" fill="#777" stroke="#222" stroke-width="0.55"/>
<circle cx="391.20" cy="681.25" r="0.95" fill="#777" stroke="#222" stroke-width="0.55"/>
<circle cx="391.20" cy="656.63" r="0.95" fill="#777" stroke="#222" stroke-width="0.55"/>
<circle cx="391.20" cy="691.24" r="0.95" fill="#777" stroke="#222" stroke-width="0.55"/>
<circle cx="391.20" cy="648.26" r="0.95" fill="#777" stroke="#222" stroke-width="0.55"/>
<circle cx="391.20" cy="690.62" r="0.95" fill="#777" stroke="#222" stroke-width="0.55"/>
<circle cx="391.20" cy="708.22" r="0.95" fill="#777" stroke="#222" stroke-width="0.55"/>
<circle cx="391.20" cy="683.36" r="0.95" fill="#777" stroke="#222" stroke-width="0.55"/>
<circle cx="391.20" cy="690.62" r="0.95" fill="#777" stroke="#222" stroke-width="0.55"/>
<circle cx="391.20" cy="509.84" r="0.95" fill="#777" stroke="#222" stroke-width="0.55"/>
<circle cx="391.20" cy="650.49" r="0.95" fill="#777" stroke="#222" stroke-width="0.55"/>
<circle cx="391.20" cy="585.39" r="0.95" fill="#777" stroke="#222" stroke-width="0.55"/>
<circle cx="391.20" cy="706.93" r="0.95" fill="#777" stroke="#222" stroke-width="0.55"/>
<circle cx="391.20" cy="606.45" r="0.95" fill="#777" stroke="#222" stroke-width="0.55"/>
<circle cx="391.20" cy="622.27" r="0.95" fill="#777" stroke="#222" stroke-width="0.55"/>
<circle cx="391.20" cy="661.28" r="0.95" fill="#777" stroke="#222" stroke-width="0.55"/>
<circle cx="391.20" cy="682.81" r="0.95" fill="#777" stroke="#222" stroke-width="0.55"/>
<circle cx="391.20" cy="661.92" r="0.95" fill="#777" stroke="#222" stroke-width="0.55"/>
<circle cx="391.20" cy="600.90" r="0.95" fill="#777" stroke="#222" stroke-width="0.55"/>
<circle cx="391.20" cy="595.64" r="0.95" fill="#777" stroke="#222" stroke-width="0.55"/>
<circle cx="391.20" cy="677.05" r="0.95" fill="#777" stroke="#222" stroke-width="0.55"/>
<circle cx="391.20" cy="624.72" r="0.95" fill="#777" stroke="#222" stroke-width="0.55"/>
<circle cx="391.20" cy="692.75" r="0.95" fill="#777" stroke="#222" stroke-width="0.55"/>
<circle cx="391.20" cy="680.21" r="0.95" fill="#777" stroke="#222" stroke-width="0.55"/>
<circle cx="391.20" cy="689.88" r="0.95" fill="#777" stroke="#222" stroke-width="0.55"/>
<circle cx="391.20" cy="604.57" r="0.95" fill="#777" stroke="#222" stroke-width="0.55"/>
<circle cx="391.20" cy="676.74" r="0.95" fill="#777" stroke="#222" stroke-width="0.55"/>
<circle cx="391.20" cy="606.85" r="0.95" fill="#777" stroke="#222" stroke-width="0.55"/>
<circle cx="391.20" cy="683.52" r="0.95" fill="#777" stroke="#222" stroke-width="0.55"/>
<circle cx="391.20" cy="591.81" r="0.95" fill="#777" stroke="#222" stroke-width="0.55"/>
<circle cx="391.20" cy="645.97" r="0.95" fill="#777" stroke="#222" stroke-width="0.55"/>
<circle cx="391.20" cy="659.37" r="0.95" fill="#777" stroke="#222" stroke-width="0.55"/>
<circle cx="391.20" cy="551.43" r="0.95" fill="#777" stroke="#222" stroke-width="0.55"/>
<circle cx="391.20" cy="699.85" r="0.95" fill="#777" stroke="#222" stroke-width="0.55"/>
<circle cx="391.20" cy="659.48" r="0.95" fill="#777" stroke="#222" stroke-width="0.55"/>
<circle cx="391.20" cy="701.07" r="0.95" fill="#777" stroke="#222" stroke-width="0.55"/>
<circle cx="391.20" cy="466.60" r="1.1" fill="#444" stroke="#222" stroke-width="0.5"/>
<path d="M389.20,638.00 L393.20,642.00 M389.20,642.00 L393.20,638.00" stroke="#333" stroke-width="0.7"/>
<rect x="414.80" y="604.30" width="40" height="87.60" fill="url(#pHol2)" stroke="#3f3f3f" stroke-width="0.8"/>
<line x1="414.80" y1="649.50" x2="454.80" y2="649.50" stroke="#333" stroke-width="0.8"/>
<line x1="434.80" y1="486.20" x2="434.80" y2="604.30" stroke="#3a3a3a" stroke-width="0.7"/>
<line x1="434.80" y1="691.90" x2="434.80" y2="712.90" stroke="#3a3a3a" stroke-width="0.7"/>
<line x1="428.80" y1="486.20" x2="440.80" y2="486.20" stroke="#3a3a3a" stroke-width="0.7"/>
<line x1="428.80" y1="712.90" x2="440.80" y2="712.90" stroke="#3a3a3a" stroke-width="0.7"/>
<circle cx="434.80" cy="547.34" r="0.95" fill="#777" stroke="#222" stroke-width="0.55"/>
<circle cx="434.80" cy="603.99" r="0.95" fill="#777" stroke="#222" stroke-width="0.55"/>
<circle cx="434.80" cy="699.88" r="0.95" fill="#777" stroke="#222" stroke-width="0.55"/>
<circle cx="434.80" cy="494.79" r="0.95" fill="#777" stroke="#222" stroke-width="0.55"/>
<circle cx="434.80" cy="660.14" r="0.95" fill="#777" stroke="#222" stroke-width="0.55"/>
<circle cx="434.80" cy="670.42" r="0.95" fill="#777" stroke="#222" stroke-width="0.55"/>
<circle cx="434.80" cy="596.50" r="0.95" fill="#777" stroke="#222" stroke-width="0.55"/>
<circle cx="434.80" cy="637.68" r="0.95" fill="#777" stroke="#222" stroke-width="0.55"/>
<circle cx="434.80" cy="639.23" r="0.95" fill="#777" stroke="#222" stroke-width="0.55"/>
<circle cx="434.80" cy="619.12" r="0.95" fill="#777" stroke="#222" stroke-width="0.55"/>
<circle cx="434.80" cy="664.84" r="0.95" fill="#777" stroke="#222" stroke-width="0.55"/>
<circle cx="434.80" cy="607.87" r="0.95" fill="#777" stroke="#222" stroke-width="0.55"/>
<circle cx="434.80" cy="706.42" r="0.95" fill="#777" stroke="#222" stroke-width="0.55"/>
<circle cx="434.80" cy="692.50" r="0.95" fill="#777" stroke="#222" stroke-width="0.55"/>
<circle cx="434.80" cy="701.61" r="0.95" fill="#777" stroke="#222" stroke-width="0.55"/>
<circle cx="434.80" cy="691.06" r="0.95" fill="#777" stroke="#222" stroke-width="0.55"/>
<circle cx="434.80" cy="488.49" r="0.95" fill="#777" stroke="#222" stroke-width="0.55"/>
<circle cx="434.80" cy="692.74" r="0.95" fill="#777" stroke="#222" stroke-width="0.55"/>
<circle cx="434.80" cy="700.39" r="0.95" fill="#777" stroke="#222" stroke-width="0.55"/>
<circle cx="434.80" cy="624.50" r="0.95" fill="#777" stroke="#222" stroke-width="0.55"/>
<circle cx="434.80" cy="698.63" r="0.95" fill="#777" stroke="#222" stroke-width="0.55"/>
<circle cx="434.80" cy="634.77" r="0.95" fill="#777" stroke="#222" stroke-width="0.55"/>
<circle cx="434.80" cy="642.58" r="0.95" fill="#777" stroke="#222" stroke-width="0.55"/>
<circle cx="434.80" cy="609.78" r="0.95" fill="#777" stroke="#222" stroke-width="0.55"/>
<circle cx="434.80" cy="617.58" r="0.95" fill="#777" stroke="#222" stroke-width="0.55"/>
<circle cx="434.80" cy="665.31" r="0.95" fill="#777" stroke="#222" stroke-width="0.55"/>
<circle cx="434.80" cy="613.30" r="0.95" fill="#777" stroke="#222" stroke-width="0.55"/>
<circle cx="434.80" cy="695.28" r="0.95" fill="#777" stroke="#222" stroke-width="0.55"/>
<circle cx="434.80" cy="709.79" r="0.95" fill="#777" stroke="#222" stroke-width="0.55"/>
<circle cx="434.80" cy="663.34" r="0.95" fill="#777" stroke="#222" stroke-width="0.55"/>
<circle cx="434.80" cy="691.58" r="0.95" fill="#777" stroke="#222" stroke-width="0.55"/>
<circle cx="434.80" cy="659.31" r="0.95" fill="#777" stroke="#222" stroke-width="0.55"/>
<circle cx="434.80" cy="633.83" r="0.95" fill="#777" stroke="#222" stroke-width="0.55"/>
<circle cx="434.80" cy="601.22" r="0.95" fill="#777" stroke="#222" stroke-width="0.55"/>
<circle cx="434.80" cy="684.23" r="0.95" fill="#777" stroke="#222" stroke-width="0.55"/>
<circle cx="434.80" cy="645.63" r="0.95" fill="#777" stroke="#222" stroke-width="0.55"/>
<circle cx="434.80" cy="696.17" r="0.95" fill="#777" stroke="#222" stroke-width="0.55"/>
<circle cx="434.80" cy="694.32" r="0.95" fill="#777" stroke="#222" stroke-width="0.55"/>
<circle cx="434.80" cy="554.46" r="0.95" fill="#777" stroke="#222" stroke-width="0.55"/>
<circle cx="434.80" cy="580.00" r="0.95" fill="#777" stroke="#222" stroke-width="0.55"/>
<circle cx="434.80" cy="624.60" r="0.95" fill="#777" stroke="#222" stroke-width="0.55"/>
<circle cx="434.80" cy="707.05" r="0.95" fill="#777" stroke="#222" stroke-width="0.55"/>
<circle cx="434.80" cy="601.05" r="0.95" fill="#777" stroke="#222" stroke-width="0.55"/>
<circle cx="434.80" cy="632.32" r="0.95" fill="#777" stroke="#222" stroke-width="0.55"/>
<circle cx="434.80" cy="697.64" r="0.95" fill="#777" stroke="#222" stroke-width="0.55"/>
<circle cx="434.80" cy="694.56" r="0.95" fill="#777" stroke="#222" stroke-width="0.55"/>
<circle cx="434.80" cy="702.70" r="0.95" fill="#777" stroke="#222" stroke-width="0.55"/>
<circle cx="434.80" cy="613.50" r="0.95" fill="#777" stroke="#222" stroke-width="0.55"/>
<circle cx="434.80" cy="696.82" r="0.95" fill="#777" stroke="#222" stroke-width="0.55"/>
<circle cx="434.80" cy="612.67" r="0.95" fill="#777" stroke="#222" stroke-width="0.55"/>
<circle cx="434.80" cy="658.12" r="0.95" fill="#777" stroke="#222" stroke-width="0.55"/>
<circle cx="434.80" cy="629.07" r="0.95" fill="#777" stroke="#222" stroke-width="0.55"/>
<circle cx="434.80" cy="692.97" r="0.95" fill="#777" stroke="#222" stroke-width="0.55"/>
<circle cx="434.80" cy="672.83" r="0.95" fill="#777" stroke="#222" stroke-width="0.55"/>
<circle cx="434.80" cy="608.42" r="0.95" fill="#777" stroke="#222" stroke-width="0.55"/>
<circle cx="434.80" cy="705.00" r="0.95" fill="#777" stroke="#222" stroke-width="0.55"/>
<circle cx="434.80" cy="459.60" r="1.1" fill="#444" stroke="#222" stroke-width="0.5"/>
<path d="M432.80,638.00 L436.80,642.00 M432.80,642.00 L436.80,638.00" stroke="#333" stroke-width="0.7"/>
<rect x="458.40" y="594.30" width="40" height="85.40" fill="url(#pSRKT)" stroke="#3f3f3f" stroke-width="0.8"/>
<line x1="458.40" y1="643.70" x2="498.40" y2="643.70" stroke="#333" stroke-width="0.8"/>
<line x1="478.40" y1="474.20" x2="478.40" y2="594.30" stroke="#3a3a3a" stroke-width="0.7"/>
<line x1="478.40" y1="679.70" x2="478.40" y2="714.00" stroke="#3a3a3a" stroke-width="0.7"/>
<line x1="472.40" y1="474.20" x2="484.40" y2="474.20" stroke="#3a3a3a" stroke-width="0.7"/>
<line x1="472.40" y1="714.00" x2="484.40" y2="714.00" stroke="#3a3a3a" stroke-width="0.7"/>
<circle cx="478.40" cy="653.90" r="0.95" fill="#777" stroke="#222" stroke-width="0.55"/>
<circle cx="478.40" cy="678.01" r="0.95" fill="#777" stroke="#222" stroke-width="0.55"/>
<circle cx="478.40" cy="664.09" r="0.95" fill="#777" stroke="#222" stroke-width="0.55"/>
<circle cx="478.40" cy="658.69" r="0.95" fill="#777" stroke="#222" stroke-width="0.55"/>
<circle cx="478.40" cy="643.53" r="0.95" fill="#777" stroke="#222" stroke-width="0.55"/>
<circle cx="478.40" cy="650.80" r="0.95" fill="#777" stroke="#222" stroke-width="0.55"/>
<circle cx="478.40" cy="604.36" r="0.95" fill="#777" stroke="#222" stroke-width="0.55"/>
<circle cx="478.40" cy="709.68" r="0.95" fill="#777" stroke="#222" stroke-width="0.55"/>
<circle cx="478.40" cy="673.23" r="0.95" fill="#777" stroke="#222" stroke-width="0.55"/>
<circle cx="478.40" cy="675.48" r="0.95" fill="#777" stroke="#222" stroke-width="0.55"/>
<circle cx="478.40" cy="649.55" r="0.95" fill="#777" stroke="#222" stroke-width="0.55"/>
<circle cx="478.40" cy="695.53" r="0.95" fill="#777" stroke="#222" stroke-width="0.55"/>
<circle cx="478.40" cy="639.24" r="0.95" fill="#777" stroke="#222" stroke-width="0.55"/>
<circle cx="478.40" cy="698.21" r="0.95" fill="#777" stroke="#222" stroke-width="0.55"/>
<circle cx="478.40" cy="661.86" r="0.95" fill="#777" stroke="#222" stroke-width="0.55"/>
<circle cx="478.40" cy="686.36" r="0.95" fill="#777" stroke="#222" stroke-width="0.55"/>
<circle cx="478.40" cy="677.02" r="0.95" fill="#777" stroke="#222" stroke-width="0.55"/>
<circle cx="478.40" cy="693.29" r="0.95" fill="#777" stroke="#222" stroke-width="0.55"/>
<circle cx="478.40" cy="642.06" r="0.95" fill="#777" stroke="#222" stroke-width="0.55"/>
<circle cx="478.40" cy="682.04" r="0.95" fill="#777" stroke="#222" stroke-width="0.55"/>
<circle cx="478.40" cy="478.86" r="0.95" fill="#777" stroke="#222" stroke-width="0.55"/>
<circle cx="478.40" cy="645.62" r="0.95" fill="#777" stroke="#222" stroke-width="0.55"/>
<circle cx="478.40" cy="567.91" r="0.95" fill="#777" stroke="#222" stroke-width="0.55"/>
<circle cx="478.40" cy="538.36" r="0.95" fill="#777" stroke="#222" stroke-width="0.55"/>
<circle cx="478.40" cy="602.22" r="0.95" fill="#777" stroke="#222" stroke-width="0.55"/>
<circle cx="478.40" cy="605.27" r="0.95" fill="#777" stroke="#222" stroke-width="0.55"/>
<circle cx="478.40" cy="674.17" r="0.95" fill="#777" stroke="#222" stroke-width="0.55"/>
<circle cx="478.40" cy="603.34" r="0.95" fill="#777" stroke="#222" stroke-width="0.55"/>
<circle cx="478.40" cy="690.11" r="0.95" fill="#777" stroke="#222" stroke-width="0.55"/>
<circle cx="478.40" cy="657.51" r="0.95" fill="#777" stroke="#222" stroke-width="0.55"/>
<circle cx="478.40" cy="685.27" r="0.95" fill="#777" stroke="#222" stroke-width="0.55"/>
<circle cx="478.40" cy="638.63" r="0.95" fill="#777" stroke="#222" stroke-width="0.55"/>
<circle cx="478.40" cy="695.93" r="0.95" fill="#777" stroke="#222" stroke-width="0.55"/>
<circle cx="478.40" cy="596.18" r="0.95" fill="#777" stroke="#222" stroke-width="0.55"/>
<circle cx="478.40" cy="600.12" r="0.95" fill="#777" stroke="#222" stroke-width="0.55"/>
<circle cx="478.40" cy="621.47" r="0.95" fill="#777" stroke="#222" stroke-width="0.55"/>
<circle cx="478.40" cy="609.43" r="0.95" fill="#777" stroke="#222" stroke-width="0.55"/>
<circle cx="478.40" cy="664.67" r="0.95" fill="#777" stroke="#222" stroke-width="0.55"/>
<circle cx="478.40" cy="667.42" r="0.95" fill="#777" stroke="#222" stroke-width="0.55"/>
<circle cx="478.40" cy="659.48" r="0.95" fill="#777" stroke="#222" stroke-width="0.55"/>
<circle cx="478.40" cy="698.08" r="0.95" fill="#777" stroke="#222" stroke-width="0.55"/>
<circle cx="478.40" cy="652.17" r="0.95" fill="#777" stroke="#222" stroke-width="0.55"/>
<circle cx="478.40" cy="632.83" r="0.95" fill="#777" stroke="#222" stroke-width="0.55"/>
<circle cx="478.40" cy="650.16" r="0.95" fill="#777" stroke="#222" stroke-width="0.55"/>
<circle cx="478.40" cy="647.55" r="0.95" fill="#777" stroke="#222" stroke-width="0.55"/>
<circle cx="478.40" cy="691.17" r="0.95" fill="#777" stroke="#222" stroke-width="0.55"/>
<circle cx="478.40" cy="691.57" r="0.95" fill="#777" stroke="#222" stroke-width="0.55"/>
<circle cx="478.40" cy="645.17" r="0.95" fill="#777" stroke="#222" stroke-width="0.55"/>
<circle cx="478.40" cy="598.36" r="0.95" fill="#777" stroke="#222" stroke-width="0.55"/>
<circle cx="478.40" cy="632.72" r="0.95" fill="#777" stroke="#222" stroke-width="0.55"/>
<circle cx="478.40" cy="645.65" r="0.95" fill="#777" stroke="#222" stroke-width="0.55"/>
<circle cx="478.40" cy="657.30" r="0.95" fill="#777" stroke="#222" stroke-width="0.55"/>
<circle cx="478.40" cy="589.36" r="0.95" fill="#777" stroke="#222" stroke-width="0.55"/>
<circle cx="478.40" cy="643.51" r="0.95" fill="#777" stroke="#222" stroke-width="0.55"/>
<circle cx="478.40" cy="634.56" r="0.95" fill="#777" stroke="#222" stroke-width="0.55"/>
<circle cx="478.40" cy="713.19" r="0.95" fill="#777" stroke="#222" stroke-width="0.55"/>
<circle cx="478.40" cy="457.70" r="1.1" fill="#444" stroke="#222" stroke-width="0.5"/>
<path d="M476.40,631.00 L480.40,635.00 M476.40,635.00 L480.40,631.00" stroke="#333" stroke-width="0.7"/>
<rect x="502.00" y="594.30" width="40" height="78.90" fill="url(#pT2)" stroke="#3f3f3f" stroke-width="0.8"/>
<line x1="502.00" y1="642.30" x2="542.00" y2="642.30" stroke="#333" stroke-width="0.8"/>
<line x1="522.00" y1="512.60" x2="522.00" y2="594.30" stroke="#3a3a3a" stroke-width="0.7"/>
<line x1="522.00" y1="673.20" x2="522.00" y2="711.60" stroke="#3a3a3a" stroke-width="0.7"/>
<line x1="516.00" y1="512.60" x2="528.00" y2="512.60" stroke="#3a3a3a" stroke-width="0.7"/>
<line x1="516.00" y1="711.60" x2="528.00" y2="711.60" stroke="#3a3a3a" stroke-width="0.7"/>
<circle cx="522.00" cy="671.86" r="0.95" fill="#777" stroke="#222" stroke-width="0.55"/>
<circle cx="522.00" cy="589.72" r="0.95" fill="#777" stroke="#222" stroke-width="0.55"/>
<circle cx="522.00" cy="638.97" r="0.95" fill="#777" stroke="#222" stroke-width="0.55"/>
<circle cx="522.00" cy="683.04" r="0.95" fill="#777" stroke="#222" stroke-width="0.55"/>
<circle cx="522.00" cy="601.92" r="0.95" fill="#777" stroke="#222" stroke-width="0.55"/>
<circle cx="522.00" cy="583.95" r="0.95" fill="#777" stroke="#222" stroke-width="0.55"/>
<circle cx="522.00" cy="601.19" r="0.95" fill="#777" stroke="#222" stroke-width="0.55"/>
<circle cx="522.00" cy="670.73" r="0.95" fill="#777" stroke="#222" stroke-width="0.55"/>
<circle cx="522.00" cy="679.96" r="0.95" fill="#777" stroke="#222" stroke-width="0.55"/>
<circle cx="522.00" cy="652.16" r="0.95" fill="#777" stroke="#222" stroke-width="0.55"/>
<circle cx="522.00" cy="677.39" r="0.95" fill="#777" stroke="#222" stroke-width="0.55"/>
<circle cx="522.00" cy="708.46" r="0.95" fill="#777" stroke="#222" stroke-width="0.55"/>
<circle cx="522.00" cy="637.28" r="0.95" fill="#777" stroke="#222" stroke-width="0.55"/>
<circle cx="522.00" cy="701.23" r="0.95" fill="#777" stroke="#222" stroke-width="0.55"/>
<circle cx="522.00" cy="690.05" r="0.95" fill="#777" stroke="#222" stroke-width="0.55"/>
<circle cx="522.00" cy="611.57" r="0.95" fill="#777" stroke="#222" stroke-width="0.55"/>
<circle cx="522.00" cy="620.95" r="0.95" fill="#777" stroke="#222" stroke-width="0.55"/>
<circle cx="522.00" cy="669.57" r="0.95" fill="#777" stroke="#222" stroke-width="0.55"/>
<circle cx="522.00" cy="711.25" r="0.95" fill="#777" stroke="#222" stroke-width="0.55"/>
<circle cx="522.00" cy="613.22" r="0.95" fill="#777" stroke="#222" stroke-width="0.55"/>
<circle cx="522.00" cy="607.01" r="0.95" fill="#777" stroke="#222" stroke-width="0.55"/>
<circle cx="522.00" cy="560.37" r="0.95" fill="#777" stroke="#222" stroke-width="0.55"/>
<circle cx="522.00" cy="665.93" r="0.95" fill="#777" stroke="#222" stroke-width="0.55"/>
<circle cx="522.00" cy="647.76" r="0.95" fill="#777" stroke="#222" stroke-width="0.55"/>
<circle cx="522.00" cy="596.62" r="0.95" fill="#777" stroke="#222" stroke-width="0.55"/>
<circle cx="522.00" cy="606.48" r="0.95" fill="#777" stroke="#222" stroke-width="0.55"/>
<circle cx="522.00" cy="641.53" r="0.95" fill="#777" stroke="#222" stroke-width="0.55"/>
<circle cx="522.00" cy="662.81" r="0.95" fill="#777" stroke="#222" stroke-width="0.55"/>
<circle cx="522.00" cy="642.36" r="0.95" fill="#777" stroke="#222" stroke-width="0.55"/>
<circle cx="522.00" cy="676.44" r="0.95" fill="#777" stroke="#222" stroke-width="0.55"/>
<circle cx="522.00" cy="615.05" r="0.95" fill="#777" stroke="#222" stroke-width="0.55"/>
<circle cx="522.00" cy="669.97" r="0.95" fill="#777" stroke="#222" stroke-width="0.55"/>
<circle cx="522.00" cy="678.80" r="0.95" fill="#777" stroke="#222" stroke-width="0.55"/>
<circle cx="522.00" cy="595.37" r="0.95" fill="#777" stroke="#222" stroke-width="0.55"/>
<circle cx="522.00" cy="683.19" r="0.95" fill="#777" stroke="#222" stroke-width="0.55"/>
<circle cx="522.00" cy="683.27" r="0.95" fill="#777" stroke="#222" stroke-width="0.55"/>
<circle cx="522.00" cy="692.27" r="0.95" fill="#777" stroke="#222" stroke-width="0.55"/>
<circle cx="522.00" cy="648.61" r="0.95" fill="#777" stroke="#222" stroke-width="0.55"/>
<circle cx="522.00" cy="617.10" r="0.95" fill="#777" stroke="#222" stroke-width="0.55"/>
<circle cx="522.00" cy="708.47" r="0.95" fill="#777" stroke="#222" stroke-width="0.55"/>
<circle cx="522.00" cy="676.44" r="0.95" fill="#777" stroke="#222" stroke-width="0.55"/>
<circle cx="522.00" cy="694.62" r="0.95" fill="#777" stroke="#222" stroke-width="0.55"/>
<circle cx="522.00" cy="631.84" r="0.95" fill="#777" stroke="#222" stroke-width="0.55"/>
<circle cx="522.00" cy="650.47" r="0.95" fill="#777" stroke="#222" stroke-width="0.55"/>
<circle cx="522.00" cy="694.91" r="0.95" fill="#777" stroke="#222" stroke-width="0.55"/>
<circle cx="522.00" cy="653.13" r="0.95" fill="#777" stroke="#222" stroke-width="0.55"/>
<circle cx="522.00" cy="615.60" r="0.95" fill="#777" stroke="#222" stroke-width="0.55"/>
<circle cx="522.00" cy="544.54" r="0.95" fill="#777" stroke="#222" stroke-width="0.55"/>
<circle cx="522.00" cy="706.85" r="0.95" fill="#777" stroke="#222" stroke-width="0.55"/>
<circle cx="522.00" cy="690.09" r="0.95" fill="#777" stroke="#222" stroke-width="0.55"/>
<circle cx="522.00" cy="649.64" r="0.95" fill="#777" stroke="#222" stroke-width="0.55"/>
<circle cx="522.00" cy="700.95" r="0.95" fill="#777" stroke="#222" stroke-width="0.55"/>
<circle cx="522.00" cy="690.89" r="0.95" fill="#777" stroke="#222" stroke-width="0.55"/>
<circle cx="522.00" cy="590.69" r="0.95" fill="#777" stroke="#222" stroke-width="0.55"/>
<circle cx="522.00" cy="693.31" r="0.95" fill="#777" stroke="#222" stroke-width="0.55"/>
<circle cx="522.00" cy="662.12" r="0.95" fill="#777" stroke="#222" stroke-width="0.55"/>
<circle cx="522.00" cy="450.20" r="1.1" fill="#444" stroke="#222" stroke-width="0.5"/>
<circle cx="522.00" cy="459.50" r="1.1" fill="#444" stroke="#222" stroke-width="0.5"/>
<path d="M520.00,628.00 L524.00,632.00 M520.00,632.00 L524.00,628.00" stroke="#333" stroke-width="0.7"/>
<rect x="545.60" y="599.80" width="40" height="76.50" fill="url(#pHol1)" stroke="#3f3f3f" stroke-width="0.8"/>
<line x1="545.60" y1="639.60" x2="585.60" y2="639.60" stroke="#333" stroke-width="0.8"/>
<line x1="565.60" y1="484.50" x2="565.60" y2="599.80" stroke="#3a3a3a" stroke-width="0.7"/>
<line x1="565.60" y1="676.30" x2="565.60" y2="714.00" stroke="#3a3a3a" stroke-width="0.7"/>
<line x1="559.60" y1="484.50" x2="571.60" y2="484.50" stroke="#3a3a3a" stroke-width="0.7"/>
<line x1="559.60" y1="714.00" x2="571.60" y2="714.00" stroke="#3a3a3a" stroke-width="0.7"/>
<circle cx="565.60" cy="606.75" r="0.95" fill="#777" stroke="#222" stroke-width="0.55"/>
<circle cx="565.60" cy="650.62" r="0.95" fill="#777" stroke="#222" stroke-width="0.55"/>
<circle cx="565.60" cy="708.67" r="0.95" fill="#777" stroke="#222" stroke-width="0.55"/>
<circle cx="565.60" cy="628.27" r="0.95" fill="#777" stroke="#222" stroke-width="0.55"/>
<circle cx="565.60" cy="706.56" r="0.95" fill="#777" stroke="#222" stroke-width="0.55"/>
<circle cx="565.60" cy="618.32" r="0.95" fill="#777" stroke="#222" stroke-width="0.55"/>
<circle cx="565.60" cy="617.81" r="0.95" fill="#777" stroke="#222" stroke-width="0.55"/>
<circle cx="565.60" cy="678.32" r="0.95" fill="#777" stroke="#222" stroke-width="0.55"/>
<circle cx="565.60" cy="676.85" r="0.95" fill="#777" stroke="#222" stroke-width="0.55"/>
<circle cx="565.60" cy="667.11" r="0.95" fill="#777" stroke="#222" stroke-width="0.55"/>
<circle cx="565.60" cy="633.44" r="0.95" fill="#777" stroke="#222" stroke-width="0.55"/>
<circle cx="565.60" cy="610.39" r="0.95" fill="#777" stroke="#222" stroke-width="0.55"/>
<circle cx="565.60" cy="655.60" r="0.95" fill="#777" stroke="#222" stroke-width="0.55"/>
<circle cx="565.60" cy="620.63" r="0.95" fill="#777" stroke="#222" stroke-width="0.55"/>
<circle cx="565.60" cy="697.49" r="0.95" fill="#777" stroke="#222" stroke-width="0.55"/>
<circle cx="565.60" cy="589.80" r="0.95" fill="#777" stroke="#222" stroke-width="0.55"/>
<circle cx="565.60" cy="599.66" r="0.95" fill="#777" stroke="#222" stroke-width="0.55"/>
<circle cx="565.60" cy="682.07" r="0.95" fill="#777" stroke="#222" stroke-width="0.55"/>
<circle cx="565.60" cy="637.40" r="0.95" fill="#777" stroke="#222" stroke-width="0.55"/>
<circle cx="565.60" cy="612.81" r="0.95" fill="#777" stroke="#222" stroke-width="0.55"/>
<circle cx="565.60" cy="580.37" r="0.95" fill="#777" stroke="#222" stroke-width="0.55"/>
<circle cx="565.60" cy="709.53" r="0.95" fill="#777" stroke="#222" stroke-width="0.55"/>
<circle cx="565.60" cy="627.38" r="0.95" fill="#777" stroke="#222" stroke-width="0.55"/>
<circle cx="565.60" cy="638.76" r="0.95" fill="#777" stroke="#222" stroke-width="0.55"/>
<circle cx="565.60" cy="670.42" r="0.95" fill="#777" stroke="#222" stroke-width="0.55"/>
<circle cx="565.60" cy="633.93" r="0.95" fill="#777" stroke="#222" stroke-width="0.55"/>
<circle cx="565.60" cy="666.19" r="0.95" fill="#777" stroke="#222" stroke-width="0.55"/>
<circle cx="565.60" cy="650.89" r="0.95" fill="#777" stroke="#222" stroke-width="0.55"/>
<circle cx="565.60" cy="696.66" r="0.95" fill="#777" stroke="#222" stroke-width="0.55"/>
<circle cx="565.60" cy="709.69" r="0.95" fill="#777" stroke="#222" stroke-width="0.55"/>
<circle cx="565.60" cy="676.64" r="0.95" fill="#777" stroke="#222" stroke-width="0.55"/>
<circle cx="565.60" cy="710.56" r="0.95" fill="#777" stroke="#222" stroke-width="0.55"/>
<circle cx="565.60" cy="644.81" r="0.95" fill="#777" stroke="#222" stroke-width="0.55"/>
<circle cx="565.60" cy="676.91" r="0.95" fill="#777" stroke="#222" stroke-width="0.55"/>
<circle cx="565.60" cy="625.03" r="0.95" fill="#777" stroke="#222" stroke-width="0.55"/>
<circle cx="565.60" cy="629.12" r="0.95" fill="#777" stroke="#222" stroke-width="0.55"/>
<circle cx="565.60" cy="695.31" r="0.95" fill="#777" stroke="#222" stroke-width="0.55"/>
<circle cx="565.60" cy="669.60" r="0.95" fill="#777" stroke="#222" stroke-width="0.55"/>
<circle cx="565.60" cy="635.27" r="0.95" fill="#777" stroke="#222" stroke-width="0.55"/>
<circle cx="565.60" cy="707.65" r="0.95" fill="#777" stroke="#222" stroke-width="0.55"/>
<circle cx="565.60" cy="494.60" r="0.95" fill="#777" stroke="#222" stroke-width="0.55"/>
<circle cx="565.60" cy="681.13" r="0.95" fill="#777" stroke="#222" stroke-width="0.55"/>
<circle cx="565.60" cy="676.77" r="0.95" fill="#777" stroke="#222" stroke-width="0.55"/>
<circle cx="565.60" cy="632.12" r="0.95" fill="#777" stroke="#222" stroke-width="0.55"/>
<circle cx="565.60" cy="632.64" r="0.95" fill="#777" stroke="#222" stroke-width="0.55"/>
<circle cx="565.60" cy="611.24" r="0.95" fill="#777" stroke="#222" stroke-width="0.55"/>
<circle cx="565.60" cy="678.14" r="0.95" fill="#777" stroke="#222" stroke-width="0.55"/>
<circle cx="565.60" cy="607.96" r="0.95" fill="#777" stroke="#222" stroke-width="0.55"/>
<circle cx="565.60" cy="655.15" r="0.95" fill="#777" stroke="#222" stroke-width="0.55"/>
<circle cx="565.60" cy="682.74" r="0.95" fill="#777" stroke="#222" stroke-width="0.55"/>
<circle cx="565.60" cy="665.87" r="0.95" fill="#777" stroke="#222" stroke-width="0.55"/>
<circle cx="565.60" cy="651.37" r="0.95" fill="#777" stroke="#222" stroke-width="0.55"/>
<circle cx="565.60" cy="561.31" r="0.95" fill="#777" stroke="#222" stroke-width="0.55"/>
<circle cx="565.60" cy="624.41" r="0.95" fill="#777" stroke="#222" stroke-width="0.55"/>
<circle cx="565.60" cy="688.24" r="0.95" fill="#777" stroke="#222" stroke-width="0.55"/>
<circle cx="565.60" cy="667.97" r="0.95" fill="#777" stroke="#222" stroke-width="0.55"/>
<circle cx="565.60" cy="445.70" r="1.1" fill="#444" stroke="#222" stroke-width="0.5"/>
<circle cx="565.60" cy="482.80" r="1.1" fill="#444" stroke="#222" stroke-width="0.5"/>
<path d="M563.60,626.00 L567.60,630.00 M563.60,630.00 L567.60,626.00" stroke="#333" stroke-width="0.7"/>
<rect x="94.10" y="726.6" width="4.6" height="4.6" fill="#7c7c7c" stroke="#555" stroke-width="0.6"/>
<text x="101.10" y="731.20" font-family="'Liberation Sans', Arial, sans-serif" font-size="6.4" font-weight="bold" fill="#2b2b2b" text-anchor="start" textLength="15.2" lengthAdjust="spacingAndGlyphs" stroke="#2b2b2b" stroke-width="0.15">VRF-L</text>
<rect x="121.40" y="726.6" width="4.6" height="4.6" fill="#f8f8f8" stroke="#555" stroke-width="0.6"/>
<text x="129.00" y="731.20" font-family="'Liberation Sans', Arial, sans-serif" font-size="6.4" font-weight="bold" fill="#2b2b2b" text-anchor="start" textLength="20.1" lengthAdjust="spacingAndGlyphs" stroke="#2b2b2b" stroke-width="0.15">VRF-GL</text>
<rect x="155.60" y="726.6" width="4.6" height="4.6" fill="#a6a6a6" stroke="#555" stroke-width="0.6"/>
<text x="161.90" y="731.20" font-family="'Liberation Sans', Arial, sans-serif" font-size="6.4" font-weight="bold" fill="#2b2b2b" text-anchor="start" textLength="16.1" lengthAdjust="spacingAndGlyphs" stroke="#2b2b2b" stroke-width="0.15">Haigis</text>
<rect x="183.10" y="726.6" width="4.6" height="4.6" fill="url(#pT2)" stroke="#555" stroke-width="0.6"/>
<text x="189.40" y="731.20" font-family="'Liberation Sans', Arial, sans-serif" font-size="6.4" font-weight="bold" fill="#2b2b2b" text-anchor="start" textLength="24.6" lengthAdjust="spacingAndGlyphs" stroke="#2b2b2b" stroke-width="0.15">Hoffer Q</text>
<rect x="219.70" y="726.6" width="4.6" height="4.6" fill="#3a3a3a" stroke="#555" stroke-width="0.6"/>
<text x="225.30" y="731.20" font-family="'Liberation Sans', Arial, sans-serif" font-size="6.4" font-weight="bold" fill="#2b2b2b" text-anchor="start" textLength="51.3" lengthAdjust="spacingAndGlyphs" stroke="#2b2b2b" stroke-width="0.15">Barrett Tru K (NH)</text>
<rect x="282.10" y="726.6" width="4.6" height="4.6" fill="url(#pPearl)" stroke="#555" stroke-width="0.6"/>
<text x="288.50" y="731.20" font-family="'Liberation Sans', Arial, sans-serif" font-size="6.4" font-weight="bold" fill="#2b2b2b" text-anchor="start" textLength="46.3" lengthAdjust="spacingAndGlyphs" stroke="#2b2b2b" stroke-width="0.15">PEARL-DGS (RK)</text>
<rect x="339.80" y="726.6" width="4.6" height="4.6" fill="#8a8a8a" stroke="#555" stroke-width="0.6"/>
<text x="345.90" y="731.20" font-family="'Liberation Sans', Arial, sans-serif" font-size="6.4" font-weight="bold" fill="#2b2b2b" text-anchor="start" textLength="41.6" lengthAdjust="spacingAndGlyphs" stroke="#2b2b2b" stroke-width="0.15">Hoffer Q (D-K)</text>
<rect x="391.60" y="726.6" width="4.6" height="4.6" fill="url(#pHol2)" stroke="#555" stroke-width="0.6"/>
<text x="398.50" y="731.20" font-family="'Liberation Sans', Arial, sans-serif" font-size="6.4" font-weight="bold" fill="#2b2b2b" text-anchor="start" textLength="47.9" lengthAdjust="spacingAndGlyphs" stroke="#2b2b2b" stroke-width="0.15">Holladay 2 (D-K)</text>
<rect x="450.20" y="726.6" width="4.6" height="4.6" fill="#8a8a8a" stroke="#555" stroke-width="0.6"/>
<text x="456.80" y="731.20" font-family="'Liberation Sans', Arial, sans-serif" font-size="6.4" font-weight="bold" fill="#2b2b2b" text-anchor="start" textLength="33.6" lengthAdjust="spacingAndGlyphs" stroke="#2b2b2b" stroke-width="0.15">SRK/T (D-K)</text>
<rect x="495.70" y="726.6" width="4.6" height="4.6" fill="url(#pT2)" stroke="#555" stroke-width="0.6"/>
<text x="502.30" y="731.20" font-family="'Liberation Sans', Arial, sans-serif" font-size="6.4" font-weight="bold" fill="#2b2b2b" text-anchor="start" textLength="23.4" lengthAdjust="spacingAndGlyphs" stroke="#2b2b2b" stroke-width="0.15">T2 (D-K)</text>
<rect x="531.10" y="726.6" width="4.6" height="4.6" fill="url(#pHol1)" stroke="#555" stroke-width="0.6"/>
<text x="537.00" y="731.20" font-family="'Liberation Sans', Arial, sans-serif" font-size="6.4" font-weight="bold" fill="#2b2b2b" text-anchor="start" textLength="46.1" lengthAdjust="spacingAndGlyphs" stroke="#2b2b2b" stroke-width="0.15">Holladay 1 (D-K)</text>
<rect x="1.5" y="749.5" width="682" height="467" fill="none" stroke="#d9d9d9" stroke-width="1"/>
<line x1="26.7" y1="1170.50" x2="671" y2="1170.50" stroke="#e6e6e6" stroke-width="1"/>
<line x1="26.7" y1="1162.50" x2="671" y2="1162.50" stroke="#f5f5f5" stroke-width="1"/>
<line x1="26.7" y1="1154.50" x2="671" y2="1154.50" stroke="#f5f5f5" stroke-width="1"/>
<line x1="26.7" y1="1146.50" x2="671" y2="1146.50" stroke="#f5f5f5" stroke-width="1"/>
<line x1="26.7" y1="1139.50" x2="671" y2="1139.50" stroke="#f5f5f5" stroke-width="1"/>
<line x1="26.7" y1="1131.50" x2="671" y2="1131.50" stroke="#e6e6e6" stroke-width="1"/>
<line x1="26.7" y1="1123.50" x2="671" y2="1123.50" stroke="#f5f5f5" stroke-width="1"/>
<line x1="26.7" y1="1116.50" x2="671" y2="1116.50" stroke="#f5f5f5" stroke-width="1"/>
<line x1="26.7" y1="1108.50" x2="671" y2="1108.50" stroke="#f5f5f5" stroke-width="1"/>
<line x1="26.7" y1="1100.50" x2="671" y2="1100.50" stroke="#f5f5f5" stroke-width="1"/>
<line x1="26.7" y1="1093.50" x2="671" y2="1093.50" stroke="#e6e6e6" stroke-width="1"/>
<line x1="26.7" y1="1085.50" x2="671" y2="1085.50" stroke="#f5f5f5" stroke-width="1"/>
<line x1="26.7" y1="1077.50" x2="671" y2="1077.50" stroke="#f5f5f5" stroke-width="1"/>
<line x1="26.7" y1="1070.50" x2="671" y2="1070.50" stroke="#f5f5f5" stroke-width="1"/>
<line x1="26.7" y1="1062.50" x2="671" y2="1062.50" stroke="#f5f5f5" stroke-width="1"/>
<line x1="26.7" y1="1054.50" x2="671" y2="1054.50" stroke="#e6e6e6" stroke-width="1"/>
<line x1="26.7" y1="1047.50" x2="671" y2="1047.50" stroke="#f5f5f5" stroke-width="1"/>
<line x1="26.7" y1="1039.50" x2="671" y2="1039.50" stroke="#f5f5f5" stroke-width="1"/>
<line x1="26.7" y1="1031.50" x2="671" y2="1031.50" stroke="#f5f5f5" stroke-width="1"/>
<line x1="26.7" y1="1024.50" x2="671" y2="1024.50" stroke="#f5f5f5" stroke-width="1"/>
<line x1="26.7" y1="1016.50" x2="671" y2="1016.50" stroke="#e6e6e6" stroke-width="1"/>
<line x1="26.7" y1="1008.50" x2="671" y2="1008.50" stroke="#f5f5f5" stroke-width="1"/>
<line x1="26.7" y1="1000.50" x2="671" y2="1000.50" stroke="#f5f5f5" stroke-width="1"/>
<line x1="26.7" y1="993.50" x2="671" y2="993.50" stroke="#f5f5f5" stroke-width="1"/>
<line x1="26.7" y1="985.50" x2="671" y2="985.50" stroke="#f5f5f5" stroke-width="1"/>
<line x1="26.7" y1="977.50" x2="671" y2="977.50" stroke="#e6e6e6" stroke-width="1"/>
<line x1="26.7" y1="970.50" x2="671" y2="970.50" stroke="#f5f5f5" stroke-width="1"/>
<line x1="26.7" y1="962.50" x2="671" y2="962.50" stroke="#f5f5f5" stroke-width="1"/>
<line x1="26.7" y1="954.50" x2="671" y2="954.50" stroke="#f5f5f5" stroke-width="1"/>
<line x1="26.7" y1="947.50" x2="671" y2="947.50" stroke="#f5f5f5" stroke-width="1"/>
<line x1="26.7" y1="939.50" x2="671" y2="939.50" stroke="#e6e6e6" stroke-width="1"/>
<line x1="26.7" y1="931.50" x2="671" y2="931.50" stroke="#f5f5f5" stroke-width="1"/>
<line x1="26.7" y1="924.50" x2="671" y2="924.50" stroke="#f5f5f5" stroke-width="1"/>
<line x1="26.7" y1="916.50" x2="671" y2="916.50" stroke="#f5f5f5" stroke-width="1"/>
<line x1="26.7" y1="908.50" x2="671" y2="908.50" stroke="#f5f5f5" stroke-width="1"/>
<line x1="26.7" y1="901.50" x2="671" y2="901.50" stroke="#e6e6e6" stroke-width="1"/>
<line x1="26.7" y1="893.50" x2="671" y2="893.50" stroke="#f5f5f5" stroke-width="1"/>
<line x1="26.7" y1="885.50" x2="671" y2="885.50" stroke="#f5f5f5" stroke-width="1"/>
<line x1="26.7" y1="878.50" x2="671" y2="878.50" stroke="#f5f5f5" stroke-width="1"/>
<line x1="26.7" y1="870.50" x2="671" y2="870.50" stroke="#f5f5f5" stroke-width="1"/>
<line x1="26.7" y1="862.50" x2="671" y2="862.50" stroke="#e6e6e6" stroke-width="1"/>
<line x1="26.7" y1="855.50" x2="671" y2="855.50" stroke="#f5f5f5" stroke-width="1"/>
<line x1="26.7" y1="847.50" x2="671" y2="847.50" stroke="#f5f5f5" stroke-width="1"/>
<line x1="26.7" y1="839.50" x2="671" y2="839.50" stroke="#f5f5f5" stroke-width="1"/>
<line x1="26.7" y1="831.50" x2="671" y2="831.50" stroke="#f5f5f5" stroke-width="1"/>
<line x1="26.7" y1="824.50" x2="671" y2="824.50" stroke="#e6e6e6" stroke-width="1"/>
<line x1="26.7" y1="816.50" x2="671" y2="816.50" stroke="#f5f5f5" stroke-width="1"/>
<line x1="26.7" y1="808.50" x2="671" y2="808.50" stroke="#f5f5f5" stroke-width="1"/>
<line x1="26.7" y1="801.50" x2="671" y2="801.50" stroke="#f5f5f5" stroke-width="1"/>
<line x1="26.7" y1="793.50" x2="671" y2="793.50" stroke="#f5f5f5" stroke-width="1"/>
<line x1="26.7" y1="785.50" x2="671" y2="785.50" stroke="#e6e6e6" stroke-width="1"/>
<text x="20.80" y="1172.10" font-family="'Liberation Sans', Arial, sans-serif" font-size="6.6" font-weight="bold" fill="#2b2b2b" text-anchor="end" textLength="8.2" lengthAdjust="spacingAndGlyphs" stroke="#2b2b2b" stroke-width="0.15">0%</text>
<text x="20.80" y="1133.69" font-family="'Liberation Sans', Arial, sans-serif" font-size="6.6" font-weight="bold" fill="#2b2b2b" text-anchor="end" textLength="11.3" lengthAdjust="spacingAndGlyphs" stroke="#2b2b2b" stroke-width="0.15">10%</text>
<text x="20.80" y="1095.28" font-family="'Liberation Sans', Arial, sans-serif" font-size="6.6" font-weight="bold" fill="#2b2b2b" text-anchor="end" textLength="11.3" lengthAdjust="spacingAndGlyphs" stroke="#2b2b2b" stroke-width="0.15">20%</text>
<text x="20.80" y="1056.87" font-family="'Liberation Sans', Arial, sans-serif" font-size="6.6" font-weight="bold" fill="#2b2b2b" text-anchor="end" textLength="11.3" lengthAdjust="spacingAndGlyphs" stroke="#2b2b2b" stroke-width="0.15">30%</text>
<text x="20.80" y="1018.46" font-family="'Liberation Sans', Arial, sans-serif" font-size="6.6" font-weight="bold" fill="#2b2b2b" text-anchor="end" textLength="11.3" lengthAdjust="spacingAndGlyphs" stroke="#2b2b2b" stroke-width="0.15">40%</text>
<text x="20.80" y="980.05" font-family="'Liberation Sans', Arial, sans-serif" font-size="6.6" font-weight="bold" fill="#2b2b2b" text-anchor="end" textLength="11.3" lengthAdjust="spacingAndGlyphs" stroke="#2b2b2b" stroke-width="0.15">50%</text>
<text x="20.80" y="941.64" font-family="'Liberation Sans', Arial, sans-serif" font-size="6.6" font-weight="bold" fill="#2b2b2b" text-anchor="end" textLength="11.3" lengthAdjust="spacingAndGlyphs" stroke="#2b2b2b" stroke-width="0.15">60%</text>
<text x="20.80" y="903.23" font-family="'Liberation Sans', Arial, sans-serif" font-size="6.6" font-weight="bold" fill="#2b2b2b" text-anchor="end" textLength="11.3" lengthAdjust="spacingAndGlyphs" stroke="#2b2b2b" stroke-width="0.15">70%</text>
<text x="20.80" y="864.82" font-family="'Liberation Sans', Arial, sans-serif" font-size="6.6" font-weight="bold" fill="#2b2b2b" text-anchor="end" textLength="11.3" lengthAdjust="spacingAndGlyphs" stroke="#2b2b2b" stroke-width="0.15">80%</text>
<text x="20.80" y="826.41" font-family="'Liberation Sans', Arial, sans-serif" font-size="6.6" font-weight="bold" fill="#2b2b2b" text-anchor="end" textLength="11.3" lengthAdjust="spacingAndGlyphs" stroke="#2b2b2b" stroke-width="0.15">90%</text>
<text x="20.80" y="788.00" font-family="'Liberation Sans', Arial, sans-serif" font-size="6.6" font-weight="bold" fill="#2b2b2b" text-anchor="end" textLength="14.1" lengthAdjust="spacingAndGlyphs" stroke="#2b2b2b" stroke-width="0.15">100%</text>
<rect x="247.20" y="765.1" width="3.6" height="3.6" fill="#595959" stroke="#555" stroke-width="0.5"/>
<text x="252.70" y="769.00" font-family="'Liberation Sans', Arial, sans-serif" font-size="5.8" font-weight="bold" fill="#2b2b2b" text-anchor="start" textLength="31.2" lengthAdjust="spacingAndGlyphs" stroke="#2b2b2b" stroke-width="0.15">0.00, 0.25 D</text>
<rect x="293.10" y="765.1" width="3.6" height="3.6" fill="url(#sZig)" stroke="#555" stroke-width="0.5"/>
<text x="298.60" y="769.00" font-family="'Liberation Sans', Arial, sans-serif" font-size="5.8" font-weight="bold" fill="#2b2b2b" text-anchor="start" textLength="31.3" lengthAdjust="spacingAndGlyphs" stroke="#2b2b2b" stroke-width="0.15">0.25, 0.50 D</text>
<rect x="338.70" y="765.1" width="3.6" height="3.6" fill="#bfbfbf" stroke="#555" stroke-width="0.5"/>
<text x="344.60" y="769.00" font-family="'Liberation Sans', Arial, sans-serif" font-size="5.8" font-weight="bold" fill="#2b2b2b" text-anchor="start" textLength="30.9" lengthAdjust="spacingAndGlyphs" stroke="#2b2b2b" stroke-width="0.15">0.50, 0.75 D</text>
<rect x="384.60" y="765.1" width="3.6" height="3.6" fill="url(#sCheckD)" stroke="#555" stroke-width="0.5"/>
<text x="389.70" y="769.00" font-family="'Liberation Sans', Arial, sans-serif" font-size="5.8" font-weight="bold" fill="#2b2b2b" text-anchor="start" textLength="31.9" lengthAdjust="spacingAndGlyphs" stroke="#2b2b2b" stroke-width="0.15">0.75, 1.00 D</text>
<rect x="430.20" y="765.1" width="3.6" height="3.6" fill="#404040" stroke="#555" stroke-width="0.5"/>
<text x="435.70" y="769.00" font-family="'Liberation Sans', Arial, sans-serif" font-size="5.8" font-weight="bold" fill="#2b2b2b" text-anchor="start" textLength="32.3" lengthAdjust="spacingAndGlyphs" stroke="#2b2b2b" stroke-width="0.15">1.00, 2.00 D</text>
<rect x="475.80" y="765.1" width="3.6" height="3.6" fill="url(#sCheckL)" stroke="#555" stroke-width="0.5"/>
<text x="481.30" y="769.00" font-family="'Liberation Sans', Arial, sans-serif" font-size="5.8" font-weight="bold" fill="#2b2b2b" text-anchor="start" textLength="22.0" lengthAdjust="spacingAndGlyphs" stroke="#2b2b2b" stroke-width="0.15">&gt; 2.00 D</text>
<rect x="44.10" y="1066.68" width="24.0" height="103.32" fill="#595959" stroke="#5a5a5a" stroke-width="0.7"/>
<rect x="44.10" y="967.96" width="24.0" height="98.71" fill="url(#sZig)" stroke="#5a5a5a" stroke-width="0.7"/>
<rect x="44.10" y="914.57" width="24.0" height="53.39" fill="#bfbfbf" stroke="#5a5a5a" stroke-width="0.7"/>
<rect x="44.10" y="865.02" width="24.0" height="49.55" fill="url(#sCheckD)" stroke="#5a5a5a" stroke-width="0.7"/>
<rect x="44.10" y="795.31" width="24.0" height="69.71" fill="url(#sDark)" stroke="#5a5a5a" stroke-width="0.7"/>
<rect x="44.10" y="785.90" width="24.0" height="9.41" fill="url(#sCheckL)" stroke="#5a5a5a" stroke-width="0.7"/>
<text x="56.10" y="1180.70" font-family="'Liberation Sans', Arial, sans-serif" font-size="6.3" font-weight="bold" fill="#2b2b2b" text-anchor="middle" textLength="15.4" lengthAdjust="spacingAndGlyphs" stroke="#2b2b2b" stroke-width="0.15">VRF-L</text>
<rect x="102.64" y="1075.90" width="24.0" height="94.10" fill="#595959" stroke="#5a5a5a" stroke-width="0.7"/>
<rect x="102.64" y="977.18" width="24.0" height="98.71" fill="url(#sZig)" stroke="#5a5a5a" stroke-width="0.7"/>
<rect x="102.64" y="909.58" width="24.0" height="67.60" fill="#bfbfbf" stroke="#5a5a5a" stroke-width="0.7"/>
<rect x="102.64" y="865.02" width="24.0" height="44.56" fill="url(#sCheckD)" stroke="#5a5a5a" stroke-width="0.7"/>
<rect x="102.64" y="790.89" width="24.0" height="74.13" fill="url(#sDark)" stroke="#5a5a5a" stroke-width="0.7"/>
<rect x="102.64" y="785.90" width="24.0" height="4.99" fill="url(#sCheckL)" stroke="#5a5a5a" stroke-width="0.7"/>
<text x="114.64" y="1180.70" font-family="'Liberation Sans', Arial, sans-serif" font-size="6.3" font-weight="bold" fill="#2b2b2b" text-anchor="middle" textLength="19.9" lengthAdjust="spacingAndGlyphs" stroke="#2b2b2b" stroke-width="0.15">VRF-GL</text>
<rect x="161.18" y="1071.29" width="24.0" height="98.71" fill="#595959" stroke="#5a5a5a" stroke-width="0.7"/>
<rect x="161.18" y="992.55" width="24.0" height="78.74" fill="url(#sZig)" stroke="#5a5a5a" stroke-width="0.7"/>
<rect x="161.18" y="904.97" width="24.0" height="87.57" fill="#bfbfbf" stroke="#5a5a5a" stroke-width="0.7"/>
<rect x="161.18" y="860.03" width="24.0" height="44.94" fill="url(#sCheckD)" stroke="#5a5a5a" stroke-width="0.7"/>
<rect x="161.18" y="795.31" width="24.0" height="64.72" fill="url(#sDark)" stroke="#5a5a5a" stroke-width="0.7"/>
<rect x="161.18" y="785.90" width="24.0" height="9.41" fill="url(#sCheckL)" stroke="#5a5a5a" stroke-width="0.7"/>
<text x="173.18" y="1180.70" font-family="'Liberation Sans', Arial, sans-serif" font-size="6.3" font-weight="bold" fill="#2b2b2b" text-anchor="middle" textLength="16.2" lengthAdjust="spacingAndGlyphs" stroke="#2b2b2b" stroke-width="0.15">Haigis</text>
<rect x="219.72" y="1061.30" width="24.0" height="108.70" fill="#595959" stroke="#5a5a5a" stroke-width="0.7"/>
<rect x="219.72" y="997.92" width="24.0" height="63.38" fill="url(#sZig)" stroke="#5a5a5a" stroke-width="0.7"/>
<rect x="219.72" y="963.74" width="24.0" height="34.18" fill="#bfbfbf" stroke="#5a5a5a" stroke-width="0.7"/>
<rect x="219.72" y="899.98" width="24.0" height="63.76" fill="url(#sCheckD)" stroke="#5a5a5a" stroke-width="0.7"/>
<rect x="219.72" y="795.31" width="24.0" height="104.67" fill="url(#sDark)" stroke="#5a5a5a" stroke-width="0.7"/>
<rect x="219.72" y="785.90" width="24.0" height="9.41" fill="url(#sCheckL)" stroke="#5a5a5a" stroke-width="0.7"/>
<text x="231.72" y="1180.70" font-family="'Liberation Sans', Arial, sans-serif" font-size="6.3" font-weight="bold" fill="#2b2b2b" text-anchor="middle" textLength="43.4" lengthAdjust="spacingAndGlyphs" stroke="#2b2b2b" stroke-width="0.15">Holladay 2 (D-K)</text>
<rect x="278.26" y="1091.26" width="24.0" height="78.74" fill="#595959" stroke="#5a5a5a" stroke-width="0.7"/>
<rect x="278.26" y="1002.15" width="24.0" height="89.11" fill="url(#sZig)" stroke="#5a5a5a" stroke-width="0.7"/>
<rect x="278.26" y="929.17" width="24.0" height="72.98" fill="#bfbfbf" stroke="#5a5a5a" stroke-width="0.7"/>
<rect x="278.26" y="879.62" width="24.0" height="49.55" fill="url(#sCheckD)" stroke="#5a5a5a" stroke-width="0.7"/>
<rect x="278.26" y="800.11" width="24.0" height="79.51" fill="url(#sDark)" stroke="#5a5a5a" stroke-width="0.7"/>
<rect x="278.26" y="785.90" width="24.0" height="14.21" fill="url(#sCheckL)" stroke="#5a5a5a" stroke-width="0.7"/>
<text x="290.26" y="1180.70" font-family="'Liberation Sans', Arial, sans-serif" font-size="6.3" font-weight="bold" fill="#2b2b2b" text-anchor="middle" textLength="51.7" lengthAdjust="spacingAndGlyphs" stroke="#2b2b2b" stroke-width="0.15">Barrett True K (NH)</text>
<rect x="336.80" y="1100.86" width="24.0" height="69.14" fill="#595959" stroke="#5a5a5a" stroke-width="0.7"/>
<rect x="336.80" y="1002.15" width="24.0" height="98.71" fill="url(#sZig)" stroke="#5a5a5a" stroke-width="0.7"/>
<rect x="336.80" y="909.58" width="24.0" height="92.57" fill="#bfbfbf" stroke="#5a5a5a" stroke-width="0.7"/>
<rect x="336.80" y="870.02" width="24.0" height="39.56" fill="url(#sCheckD)" stroke="#5a5a5a" stroke-width="0.7"/>
<rect x="336.80" y="800.11" width="24.0" height="69.91" fill="url(#sDark)" stroke="#5a5a5a" stroke-width="0.7"/>
<rect x="336.80" y="785.90" width="24.0" height="14.21" fill="url(#sCheckL)" stroke="#5a5a5a" stroke-width="0.7"/>
<text x="348.80" y="1180.70" font-family="'Liberation Sans', Arial, sans-serif" font-size="6.3" font-weight="bold" fill="#2b2b2b" text-anchor="middle" textLength="23.1" lengthAdjust="spacingAndGlyphs" stroke="#2b2b2b" stroke-width="0.15">Hoffer Q</text>
<rect x="395.34" y="1100.86" width="24.0" height="69.14" fill="#595959" stroke="#5a5a5a" stroke-width="0.7"/>
<rect x="395.34" y="1017.51" width="24.0" height="83.35" fill="url(#sZig)" stroke="#5a5a5a" stroke-width="0.7"/>
<rect x="395.34" y="958.36" width="24.0" height="59.15" fill="#bfbfbf" stroke="#5a5a5a" stroke-width="0.7"/>
<rect x="395.34" y="904.97" width="24.0" height="53.39" fill="url(#sCheckD)" stroke="#5a5a5a" stroke-width="0.7"/>
<rect x="395.34" y="800.11" width="24.0" height="104.86" fill="url(#sDark)" stroke="#5a5a5a" stroke-width="0.7"/>
<rect x="395.34" y="785.90" width="24.0" height="14.21" fill="url(#sCheckL)" stroke="#5a5a5a" stroke-width="0.7"/>
<text x="407.34" y="1180.70" font-family="'Liberation Sans', Arial, sans-serif" font-size="6.3" font-weight="bold" fill="#2b2b2b" text-anchor="middle" textLength="38.0" lengthAdjust="spacingAndGlyphs" stroke="#2b2b2b" stroke-width="0.15">Hoffer Q (D-K)</text>
<rect x="453.88" y="1115.84" width="24.0" height="54.16" fill="#595959" stroke="#5a5a5a" stroke-width="0.7"/>
<rect x="453.88" y="1027.11" width="24.0" height="88.73" fill="url(#sZig)" stroke="#5a5a5a" stroke-width="0.7"/>
<rect x="453.88" y="973.72" width="24.0" height="53.39" fill="#bfbfbf" stroke="#5a5a5a" stroke-width="0.7"/>
<rect x="453.88" y="929.17" width="24.0" height="44.56" fill="url(#sCheckD)" stroke="#5a5a5a" stroke-width="0.7"/>
<rect x="453.88" y="800.11" width="24.0" height="129.06" fill="url(#sDark)" stroke="#5a5a5a" stroke-width="0.7"/>
<rect x="453.88" y="785.90" width="24.0" height="14.21" fill="url(#sCheckL)" stroke="#5a5a5a" stroke-width="0.7"/>
<text x="465.88" y="1180.70" font-family="'Liberation Sans', Arial, sans-serif" font-size="6.3" font-weight="bold" fill="#2b2b2b" text-anchor="middle" textLength="31.1" lengthAdjust="spacingAndGlyphs" stroke="#2b2b2b" stroke-width="0.15">SRK/T (D-K)</text>
<rect x="512.42" y="1096.25" width="24.0" height="73.75" fill="#595959" stroke="#5a5a5a" stroke-width="0.7"/>
<rect x="512.42" y="1032.11" width="24.0" height="64.14" fill="url(#sZig)" stroke="#5a5a5a" stroke-width="0.7"/>
<rect x="512.42" y="923.79" width="24.0" height="108.32" fill="#bfbfbf" stroke="#5a5a5a" stroke-width="0.7"/>
<rect x="512.42" y="879.62" width="24.0" height="44.17" fill="url(#sCheckD)" stroke="#5a5a5a" stroke-width="0.7"/>
<rect x="512.42" y="790.51" width="24.0" height="89.11" fill="url(#sDark)" stroke="#5a5a5a" stroke-width="0.7"/>
<rect x="512.42" y="785.90" width="24.0" height="4.61" fill="url(#sCheckL)" stroke="#5a5a5a" stroke-width="0.7"/>
<text x="524.42" y="1180.70" font-family="'Liberation Sans', Arial, sans-serif" font-size="6.3" font-weight="bold" fill="#2b2b2b" text-anchor="middle" textLength="42.9" lengthAdjust="spacingAndGlyphs" stroke="#2b2b2b" stroke-width="0.15">PEARL-DGS (RK)</text>
<rect x="570.96" y="1105.86" width="24.0" height="64.14" fill="#595959" stroke="#5a5a5a" stroke-width="0.7"/>
<rect x="570.96" y="1042.09" width="24.0" height="63.76" fill="url(#sZig)" stroke="#5a5a5a" stroke-width="0.7"/>
<rect x="570.96" y="983.33" width="24.0" height="58.77" fill="#bfbfbf" stroke="#5a5a5a" stroke-width="0.7"/>
<rect x="570.96" y="929.17" width="24.0" height="54.16" fill="url(#sCheckD)" stroke="#5a5a5a" stroke-width="0.7"/>
<rect x="570.96" y="805.11" width="24.0" height="124.06" fill="url(#sDark)" stroke="#5a5a5a" stroke-width="0.7"/>
<rect x="570.96" y="785.90" width="24.0" height="19.21" fill="url(#sCheckL)" stroke="#5a5a5a" stroke-width="0.7"/>
<text x="582.96" y="1180.70" font-family="'Liberation Sans', Arial, sans-serif" font-size="6.3" font-weight="bold" fill="#2b2b2b" text-anchor="middle" textLength="43.4" lengthAdjust="spacingAndGlyphs" stroke="#2b2b2b" stroke-width="0.15">Holladay 1 (D-K)</text>
<rect x="629.50" y="1085.88" width="24.0" height="84.12" fill="#595959" stroke="#5a5a5a" stroke-width="0.7"/>
<rect x="629.50" y="1056.69" width="24.0" height="29.19" fill="url(#sZig)" stroke="#5a5a5a" stroke-width="0.7"/>
<rect x="629.50" y="973.72" width="24.0" height="82.97" fill="#bfbfbf" stroke="#5a5a5a" stroke-width="0.7"/>
<rect x="629.50" y="948.76" width="24.0" height="24.97" fill="url(#sCheckD)" stroke="#5a5a5a" stroke-width="0.7"/>
<rect x="629.50" y="800.11" width="24.0" height="148.65" fill="url(#sDark)" stroke="#5a5a5a" stroke-width="0.7"/>
<rect x="629.50" y="785.90" width="24.0" height="14.21" fill="url(#sCheckL)" stroke="#5a5a5a" stroke-width="0.7"/>
<text x="641.50" y="1180.70" font-family="'Liberation Sans', Arial, sans-serif" font-size="6.3" font-weight="bold" fill="#2b2b2b" text-anchor="middle" textLength="20.8" lengthAdjust="spacingAndGlyphs" stroke="#2b2b2b" stroke-width="0.15">T2 (D-K)</text>
</svg>
</body></html>
